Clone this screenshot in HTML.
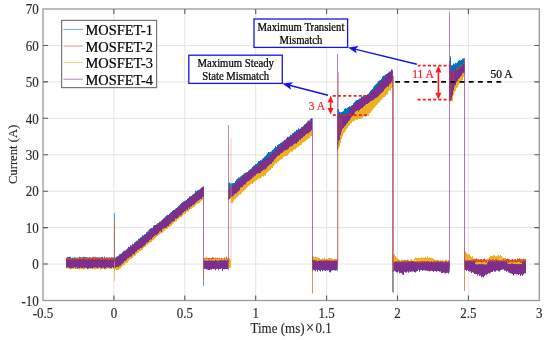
<!DOCTYPE html>
<html><head><meta charset="utf-8"><style>html,body{margin:0;padding:0;background:#fff;overflow:hidden}svg{display:block;filter:blur(0.3px)}</style></head>
<body><svg width="550" height="340" viewBox="0 0 550 340"><path d="M113.90 9.0V300.5M184.80 9.0V300.5M255.70 9.0V300.5M326.60 9.0V300.5M397.50 9.0V300.5M468.40 9.0V300.5M43.0 264.06H539.3M43.0 227.62H539.3M43.0 191.19H539.3M43.0 154.75H539.3M43.0 118.31H539.3M43.0 81.88H539.3M43.0 45.44H539.3" stroke="#e4e4e4" stroke-width="1" fill="none"/><path d="M66.0,258.0 67.0,258.0 67.0,257.1 68.0,257.1 68.0,257.1 69.0,257.1 69.0,256.7 70.0,256.7 70.0,256.9 71.0,256.9 71.0,258.1 72.0,258.1 72.0,257.7 73.0,257.7 73.0,257.7 74.0,257.7 74.0,257.5 75.0,257.5 75.0,257.6 76.0,257.6 76.0,257.7 77.0,257.7 77.0,258.0 78.0,258.0 78.0,258.3 79.0,258.3 79.0,256.8 80.0,256.8 80.0,257.2 81.0,257.2 81.0,257.7 82.0,257.7 82.0,257.6 83.0,257.6 83.0,256.8 84.0,256.8 84.0,256.9 85.0,256.9 85.0,257.0 86.0,257.0 86.0,257.6 87.0,257.6 87.0,257.6 88.0,257.6 88.0,257.4 89.0,257.4 89.0,257.3 90.0,257.3 90.0,257.4 91.0,257.4 91.0,257.7 92.0,257.7 92.0,257.3 93.0,257.3 93.0,257.7 94.0,257.7 94.0,257.2 95.0,257.2 95.0,257.3 96.0,257.3 96.0,257.3 97.0,257.3 97.0,257.6 98.0,257.6 98.0,257.6 99.0,257.6 99.0,257.2 100.0,257.2 100.0,257.6 101.0,257.6 101.0,258.0 102.0,258.0 102.0,257.0 103.0,257.0 103.0,257.9 104.0,257.9 104.0,256.4 105.0,256.4 105.0,257.9 106.0,257.9 106.0,257.2 107.0,257.2 107.0,257.5 108.0,257.5 108.0,258.0 109.0,258.0 109.0,257.5 110.0,257.5 110.0,257.8 111.0,257.8 111.0,257.3 112.0,257.3 112.0,257.6 113.0,257.6 113.0,257.2 114.0,257.2 114.0,265.6 113.0,265.6 113.0,266.0 112.0,266.0 112.0,265.8 111.0,265.8 111.0,266.1 110.0,266.1 110.0,266.7 109.0,266.7 109.0,266.3 108.0,266.3 108.0,266.8 107.0,266.8 107.0,266.3 106.0,266.3 106.0,265.9 105.0,265.9 105.0,265.6 104.0,265.6 104.0,265.8 103.0,265.8 103.0,265.5 102.0,265.5 102.0,266.1 101.0,266.1 101.0,265.7 100.0,265.7 100.0,266.2 99.0,266.2 99.0,265.5 98.0,265.5 98.0,265.4 97.0,265.4 97.0,266.1 96.0,266.1 96.0,266.4 95.0,266.4 95.0,265.4 94.0,265.4 94.0,266.3 93.0,266.3 93.0,265.8 92.0,265.8 92.0,266.0 91.0,266.0 91.0,266.5 90.0,266.5 90.0,266.8 89.0,266.8 89.0,266.2 88.0,266.2 88.0,266.2 87.0,266.2 87.0,266.0 86.0,266.0 86.0,266.2 85.0,266.2 85.0,267.2 84.0,267.2 84.0,265.8 83.0,265.8 83.0,266.2 82.0,266.2 82.0,266.0 81.0,266.0 81.0,265.8 80.0,265.8 80.0,266.1 79.0,266.1 79.0,265.9 78.0,265.9 78.0,266.7 77.0,266.7 77.0,265.8 76.0,265.8 76.0,266.3 75.0,266.3 75.0,265.4 74.0,265.4 74.0,266.3 73.0,266.3 73.0,266.0 72.0,266.0 72.0,265.5 71.0,265.5 71.0,266.7 70.0,266.7 70.0,266.0 69.0,266.0 69.0,265.5 68.0,265.5 68.0,265.7 67.0,265.7 67.0,265.7 66.0,265.7Z" fill="#0072BD"/><path d="M114.0,258.7 115.0,258.7 115.0,257.8 116.0,257.8 116.0,256.8 117.0,256.8 117.0,256.6 118.0,256.6 118.0,255.8 119.0,255.8 119.0,254.2 120.0,254.2 120.0,254.7 121.0,254.7 121.0,253.4 122.0,253.4 122.0,252.4 123.0,252.4 123.0,251.3 124.0,251.3 124.0,250.4 125.0,250.4 125.0,250.5 126.0,250.5 126.0,249.6 127.0,249.6 127.0,248.6 128.0,248.6 128.0,246.8 129.0,246.8 129.0,247.2 130.0,247.2 130.0,245.1 131.0,245.1 131.0,245.5 132.0,245.5 132.0,243.5 133.0,243.5 133.0,244.3 134.0,244.3 134.0,242.4 135.0,242.4 135.0,241.8 136.0,241.8 136.0,240.8 137.0,240.8 137.0,240.6 138.0,240.6 138.0,238.7 139.0,238.7 139.0,238.4 140.0,238.4 140.0,237.6 141.0,237.6 141.0,237.0 142.0,237.0 142.0,235.2 143.0,235.2 143.0,235.5 144.0,235.5 144.0,234.6 145.0,234.6 145.0,234.0 146.0,234.0 146.0,232.2 147.0,232.2 147.0,231.5 148.0,231.5 148.0,230.8 149.0,230.8 149.0,229.3 150.0,229.3 150.0,228.6 151.0,228.6 151.0,228.0 152.0,228.0 152.0,227.9 153.0,227.9 153.0,225.8 154.0,225.8 154.0,224.9 155.0,224.9 155.0,224.9 156.0,224.9 156.0,224.7 157.0,224.7 157.0,223.3 158.0,223.3 158.0,223.0 159.0,223.0 159.0,221.8 160.0,221.8 160.0,221.6 161.0,221.6 161.0,220.6 162.0,220.6 162.0,219.5 163.0,219.5 163.0,218.4 164.0,218.4 164.0,217.5 165.0,217.5 165.0,216.5 166.0,216.5 166.0,215.4 167.0,215.4 167.0,214.9 168.0,214.9 168.0,214.9 169.0,214.9 169.0,213.7 170.0,213.7 170.0,212.4 171.0,212.4 171.0,212.1 172.0,212.1 172.0,210.8 173.0,210.8 173.0,210.1 174.0,210.1 174.0,209.8 175.0,209.8 175.0,208.7 176.0,208.7 176.0,208.0 177.0,208.0 177.0,207.3 178.0,207.3 178.0,205.7 179.0,205.7 179.0,205.5 180.0,205.5 180.0,203.9 181.0,203.9 181.0,203.0 182.0,203.0 182.0,203.1 183.0,203.1 183.0,201.5 184.0,201.5 184.0,200.9 185.0,200.9 185.0,200.5 186.0,200.5 186.0,200.0 187.0,200.0 187.0,198.8 188.0,198.8 188.0,198.2 189.0,198.2 189.0,196.6 190.0,196.6 190.0,196.3 191.0,196.3 191.0,195.9 192.0,195.9 192.0,194.7 193.0,194.7 193.0,194.0 194.0,194.0 194.0,193.4 195.0,193.4 195.0,190.8 196.0,190.8 196.0,191.2 197.0,191.2 197.0,190.6 198.0,190.6 198.0,190.2 199.0,190.2 199.0,189.6 200.0,189.6 200.0,188.8 201.0,188.8 201.0,187.4 202.0,187.4 202.0,187.0 203.0,187.0 203.0,185.9 203.6,185.9 203.6,193.1 203.0,193.1 203.0,194.6 202.0,194.6 202.0,194.6 201.0,194.6 201.0,196.6 200.0,196.6 200.0,197.1 199.0,197.1 199.0,197.4 198.0,197.4 198.0,199.5 197.0,199.5 197.0,200.1 196.0,200.1 196.0,199.5 195.0,199.5 195.0,200.0 194.0,200.0 194.0,201.4 193.0,201.4 193.0,202.0 192.0,202.0 192.0,202.7 191.0,202.7 191.0,203.3 190.0,203.3 190.0,204.2 189.0,204.2 189.0,206.6 188.0,206.6 188.0,205.6 187.0,205.6 187.0,206.5 186.0,206.5 186.0,208.4 185.0,208.4 185.0,208.5 184.0,208.5 184.0,209.8 183.0,209.8 183.0,209.9 182.0,209.9 182.0,211.5 181.0,211.5 181.0,211.7 180.0,211.7 180.0,213.6 179.0,213.6 179.0,213.6 178.0,213.6 178.0,214.1 177.0,214.1 177.0,216.1 176.0,216.1 176.0,216.2 175.0,216.2 175.0,216.4 174.0,216.4 174.0,217.3 173.0,217.3 173.0,218.3 172.0,218.3 172.0,219.6 171.0,219.6 171.0,220.3 170.0,220.3 170.0,221.6 169.0,221.6 169.0,222.0 168.0,222.0 168.0,223.1 167.0,223.1 167.0,223.4 166.0,223.4 166.0,224.1 165.0,224.1 165.0,225.9 164.0,225.9 164.0,226.4 163.0,226.4 163.0,227.2 162.0,227.2 162.0,227.6 161.0,227.6 161.0,228.1 160.0,228.1 160.0,228.4 159.0,228.4 159.0,230.0 158.0,230.0 158.0,230.4 157.0,230.4 157.0,231.3 156.0,231.3 156.0,232.4 155.0,232.4 155.0,233.6 154.0,233.6 154.0,234.5 153.0,234.5 153.0,234.5 152.0,234.5 152.0,236.7 151.0,236.7 151.0,236.8 150.0,236.8 150.0,237.1 149.0,237.1 149.0,239.6 148.0,239.6 148.0,239.7 147.0,239.7 147.0,239.8 146.0,239.8 146.0,240.8 145.0,240.8 145.0,241.9 144.0,241.9 144.0,242.9 143.0,242.9 143.0,244.6 142.0,244.6 142.0,244.7 141.0,244.7 141.0,245.5 140.0,245.5 140.0,245.9 139.0,245.9 139.0,246.8 138.0,246.8 138.0,248.4 137.0,248.4 137.0,248.5 136.0,248.5 136.0,249.5 135.0,249.5 135.0,250.1 134.0,250.1 134.0,251.0 133.0,251.0 133.0,251.7 132.0,251.7 132.0,253.0 131.0,253.0 131.0,252.9 130.0,252.9 130.0,253.5 129.0,253.5 129.0,255.3 128.0,255.3 128.0,256.2 127.0,256.2 127.0,257.1 126.0,257.1 126.0,257.7 125.0,257.7 125.0,258.4 124.0,258.4 124.0,259.5 123.0,259.5 123.0,260.5 122.0,260.5 122.0,262.2 121.0,262.2 121.0,262.5 120.0,262.5 120.0,263.5 119.0,263.5 119.0,264.1 118.0,264.1 118.0,264.4 117.0,264.4 117.0,264.4 116.0,264.4 116.0,264.9 115.0,264.9 115.0,265.1 114.0,265.1Z" fill="#0072BD"/><path d="M203.6,261.7 204.0,261.7 204.0,262.3 205.0,262.3 205.0,261.8 206.0,261.8 206.0,261.3 207.0,261.3 207.0,262.5 208.0,262.5 208.0,261.5 209.0,261.5 209.0,261.7 210.0,261.7 210.0,262.5 211.0,262.5 211.0,262.3 212.0,262.3 212.0,262.1 213.0,262.1 213.0,262.4 214.0,262.4 214.0,262.2 215.0,262.2 215.0,262.1 216.0,262.1 216.0,262.2 217.0,262.2 217.0,261.9 218.0,261.9 218.0,262.1 219.0,262.1 219.0,261.3 220.0,261.3 220.0,261.6 221.0,261.6 221.0,262.2 222.0,262.2 222.0,261.7 223.0,261.7 223.0,262.3 224.0,262.3 224.0,261.4 225.0,261.4 225.0,261.6 226.0,261.6 226.0,262.4 227.0,262.4 227.0,262.1 228.0,262.1 228.0,262.1 228.5,262.1 228.5,268.2 228.0,268.2 228.0,268.9 227.0,268.9 227.0,268.1 226.0,268.1 226.0,268.1 225.0,268.1 225.0,268.0 224.0,268.0 224.0,268.3 223.0,268.3 223.0,267.7 222.0,267.7 222.0,267.8 221.0,267.8 221.0,268.2 220.0,268.2 220.0,268.4 219.0,268.4 219.0,268.0 218.0,268.0 218.0,267.7 217.0,267.7 217.0,268.2 216.0,268.2 216.0,268.5 215.0,268.5 215.0,268.3 214.0,268.3 214.0,268.8 213.0,268.8 213.0,267.9 212.0,267.9 212.0,268.6 211.0,268.6 211.0,268.0 210.0,268.0 210.0,269.0 209.0,269.0 209.0,269.3 208.0,269.3 208.0,268.2 207.0,268.2 207.0,268.9 206.0,268.9 206.0,268.1 205.0,268.1 205.0,268.4 204.0,268.4 204.0,268.2 203.6,268.2Z" fill="#0072BD"/><path d="M228.5,182.8 229.0,182.8 229.0,182.5 230.0,182.5 230.0,183.5 231.0,183.5 231.0,183.3 232.0,183.3 232.0,183.3 233.0,183.3 233.0,183.1 234.0,183.1 234.0,183.0 235.0,183.0 235.0,181.1 236.0,181.1 236.0,179.5 237.0,179.5 237.0,178.5 238.0,178.5 238.0,177.5 239.0,177.5 239.0,177.5 240.0,177.5 240.0,176.6 241.0,176.6 241.0,175.8 242.0,175.8 242.0,175.1 243.0,175.1 243.0,174.2 244.0,174.2 244.0,173.0 245.0,173.0 245.0,172.8 246.0,172.8 246.0,172.4 247.0,172.4 247.0,172.1 248.0,172.1 248.0,170.8 249.0,170.8 249.0,169.9 250.0,169.9 250.0,169.2 251.0,169.2 251.0,168.4 252.0,168.4 252.0,166.9 253.0,166.9 253.0,165.7 254.0,165.7 254.0,165.6 255.0,165.6 255.0,163.9 256.0,163.9 256.0,164.0 257.0,164.0 257.0,163.0 258.0,163.0 258.0,161.3 259.0,161.3 259.0,161.1 260.0,161.1 260.0,160.3 261.0,160.3 261.0,160.3 262.0,160.3 262.0,158.7 263.0,158.7 263.0,157.9 264.0,157.9 264.0,156.7 265.0,156.7 265.0,156.1 266.0,156.1 266.0,154.8 267.0,154.8 267.0,153.5 268.0,153.5 268.0,152.0 269.0,152.0 269.0,152.3 270.0,152.3 270.0,152.0 271.0,152.0 271.0,151.3 272.0,151.3 272.0,150.1 273.0,150.1 273.0,149.3 274.0,149.3 274.0,147.9 275.0,147.9 275.0,146.1 276.0,146.1 276.0,147.0 277.0,147.0 277.0,145.1 278.0,145.1 278.0,144.6 279.0,144.6 279.0,143.9 280.0,143.9 280.0,143.1 281.0,143.1 281.0,142.6 282.0,142.6 282.0,141.7 283.0,141.7 283.0,141.3 284.0,141.3 284.0,139.9 285.0,139.9 285.0,139.7 286.0,139.7 286.0,138.6 287.0,138.6 287.0,137.8 288.0,137.8 288.0,136.9 289.0,136.9 289.0,136.3 290.0,136.3 290.0,134.4 291.0,134.4 291.0,134.9 292.0,134.9 292.0,133.3 293.0,133.3 293.0,133.1 294.0,133.1 294.0,131.8 295.0,131.8 295.0,131.5 296.0,131.5 296.0,129.7 297.0,129.7 297.0,130.0 298.0,130.0 298.0,128.3 299.0,128.3 299.0,129.0 300.0,129.0 300.0,128.6 301.0,128.6 301.0,126.9 302.0,126.9 302.0,126.8 303.0,126.8 303.0,125.8 304.0,125.8 304.0,124.4 305.0,124.4 305.0,124.1 306.0,124.1 306.0,122.8 307.0,122.8 307.0,121.4 308.0,121.4 308.0,120.5 309.0,120.5 309.0,120.4 310.0,120.4 310.0,119.1 311.0,119.1 311.0,118.1 312.0,118.1 312.0,122.1 311.0,122.1 311.0,122.9 310.0,122.9 310.0,124.8 309.0,124.8 309.0,124.7 308.0,124.7 308.0,126.0 307.0,126.0 307.0,127.0 306.0,127.0 306.0,127.7 305.0,127.7 305.0,128.2 304.0,128.2 304.0,129.8 303.0,129.8 303.0,130.7 302.0,130.7 302.0,131.5 301.0,131.5 301.0,131.9 300.0,131.9 300.0,132.8 299.0,132.8 299.0,133.6 298.0,133.6 298.0,135.4 297.0,135.4 297.0,134.9 296.0,134.9 296.0,135.9 295.0,135.9 295.0,137.4 294.0,137.4 294.0,137.0 293.0,137.0 293.0,138.4 292.0,138.4 292.0,139.1 291.0,139.1 291.0,140.7 290.0,140.7 290.0,140.7 289.0,140.7 289.0,141.2 288.0,141.2 288.0,141.8 287.0,141.8 287.0,142.4 286.0,142.4 286.0,143.4 285.0,143.4 285.0,143.6 284.0,143.6 284.0,145.4 283.0,145.4 283.0,146.2 282.0,146.2 282.0,146.9 281.0,146.9 281.0,148.5 280.0,148.5 280.0,148.9 279.0,148.9 279.0,149.8 278.0,149.8 278.0,151.3 277.0,151.3 277.0,152.6 276.0,152.6 276.0,154.1 275.0,154.1 275.0,155.1 274.0,155.1 274.0,155.3 273.0,155.3 273.0,156.4 272.0,156.4 272.0,158.1 271.0,158.1 271.0,158.5 270.0,158.5 270.0,158.9 269.0,158.9 269.0,160.4 268.0,160.4 268.0,160.5 267.0,160.5 267.0,161.6 266.0,161.6 266.0,161.8 265.0,161.8 265.0,163.2 264.0,163.2 264.0,163.3 263.0,163.3 263.0,164.1 262.0,164.1 262.0,165.5 261.0,165.5 261.0,165.4 260.0,165.4 260.0,166.6 259.0,166.6 259.0,167.1 258.0,167.1 258.0,168.8 257.0,168.8 257.0,168.1 256.0,168.1 256.0,169.3 255.0,169.3 255.0,170.0 254.0,170.0 254.0,170.9 253.0,170.9 253.0,172.2 252.0,172.2 252.0,171.8 251.0,171.8 251.0,172.6 250.0,172.6 250.0,173.9 249.0,173.9 249.0,175.4 248.0,175.4 248.0,177.3 247.0,177.3 247.0,176.3 246.0,176.3 246.0,178.2 245.0,178.2 245.0,178.8 244.0,178.8 244.0,178.2 243.0,178.2 243.0,180.5 242.0,180.5 242.0,180.0 241.0,180.0 241.0,181.9 240.0,181.9 240.0,182.3 239.0,182.3 239.0,184.0 238.0,184.0 238.0,183.8 237.0,183.8 237.0,185.0 236.0,185.0 236.0,186.5 235.0,186.5 235.0,188.0 234.0,188.0 234.0,188.1 233.0,188.1 233.0,189.0 232.0,189.0 232.0,189.9 231.0,189.9 231.0,191.6 230.0,191.6 230.0,191.3 229.0,191.3 229.0,191.9 228.5,191.9Z" fill="#0072BD"/><path d="M312.0,262.4 313.0,262.4 313.0,262.2 314.0,262.2 314.0,262.3 315.0,262.3 315.0,262.1 316.0,262.1 316.0,260.9 317.0,260.9 317.0,261.8 318.0,261.8 318.0,262.7 319.0,262.7 319.0,262.3 320.0,262.3 320.0,262.3 321.0,262.3 321.0,261.8 322.0,261.8 322.0,261.6 323.0,261.6 323.0,261.9 324.0,261.9 324.0,261.9 325.0,261.9 325.0,260.8 326.0,260.8 326.0,262.6 327.0,262.6 327.0,261.7 328.0,261.7 328.0,262.6 329.0,262.6 329.0,261.2 330.0,261.2 330.0,262.2 331.0,262.2 331.0,261.9 332.0,261.9 332.0,262.2 333.0,262.2 333.0,261.6 334.0,261.6 334.0,262.4 335.0,262.4 335.0,261.7 336.0,261.7 336.0,262.2 337.0,262.2 337.0,261.5 337.5,261.5 337.5,270.5 337.0,270.5 337.0,270.2 336.0,270.2 336.0,270.6 335.0,270.6 335.0,270.5 334.0,270.5 334.0,269.7 333.0,269.7 333.0,269.8 332.0,269.8 332.0,270.5 331.0,270.5 331.0,269.6 330.0,269.6 330.0,271.4 329.0,271.4 329.0,269.8 328.0,269.8 328.0,270.5 327.0,270.5 327.0,270.3 326.0,270.3 326.0,271.0 325.0,271.0 325.0,270.6 324.0,270.6 324.0,270.2 323.0,270.2 323.0,271.3 322.0,271.3 322.0,270.1 321.0,270.1 321.0,270.2 320.0,270.2 320.0,270.4 319.0,270.4 319.0,270.0 318.0,270.0 318.0,271.2 317.0,271.2 317.0,269.6 316.0,269.6 316.0,271.3 315.0,271.3 315.0,270.2 314.0,270.2 314.0,269.7 313.0,269.7 313.0,270.1 312.0,270.1Z" fill="#0072BD"/><path d="M337.5,109.2 338.0,109.2 338.0,109.2 339.0,109.2 339.0,111.7 340.0,111.7 340.0,112.4 341.0,112.4 341.0,112.0 342.0,112.0 342.0,111.7 343.0,111.7 343.0,110.9 344.0,110.9 344.0,109.1 345.0,109.1 345.0,108.3 346.0,108.3 346.0,108.5 347.0,108.5 347.0,107.7 348.0,107.7 348.0,106.9 349.0,106.9 349.0,106.2 350.0,106.2 350.0,106.5 351.0,106.5 351.0,105.6 352.0,105.6 352.0,105.0 353.0,105.0 353.0,103.3 354.0,103.3 354.0,102.3 355.0,102.3 355.0,100.8 356.0,100.8 356.0,100.2 357.0,100.2 357.0,99.9 358.0,99.9 358.0,99.3 359.0,99.3 359.0,98.5 360.0,98.5 360.0,98.2 361.0,98.2 361.0,96.8 362.0,96.8 362.0,96.4 363.0,96.4 363.0,95.2 364.0,95.2 364.0,96.6 365.0,96.6 365.0,95.3 366.0,95.3 366.0,95.6 367.0,95.6 367.0,94.3 368.0,94.3 368.0,93.7 369.0,93.7 369.0,92.2 370.0,92.2 370.0,90.8 371.0,90.8 371.0,89.7 372.0,89.7 372.0,88.9 373.0,88.9 373.0,87.3 374.0,87.3 374.0,85.4 375.0,85.4 375.0,84.7 376.0,84.7 376.0,83.8 377.0,83.8 377.0,82.5 378.0,82.5 378.0,81.0 379.0,81.0 379.0,80.5 380.0,80.5 380.0,80.0 381.0,80.0 381.0,79.0 382.0,79.0 382.0,76.5 383.0,76.5 383.0,75.7 384.0,75.7 384.0,75.4 385.0,75.4 385.0,74.4 386.0,74.4 386.0,74.1 387.0,74.1 387.0,73.2 388.0,73.2 388.0,72.4 389.0,72.4 389.0,72.2 390.0,72.2 390.0,71.7 391.0,71.7 391.0,69.4 392.0,69.4 392.0,69.5 392.6,69.5 392.6,73.1 392.0,73.1 392.0,74.2 391.0,74.2 391.0,74.5 390.0,74.5 390.0,75.2 389.0,75.2 389.0,77.0 388.0,77.0 388.0,77.4 387.0,77.4 387.0,79.2 386.0,79.2 386.0,80.3 385.0,80.3 385.0,81.0 384.0,81.0 384.0,81.6 383.0,81.6 383.0,83.4 382.0,83.4 382.0,84.2 381.0,84.2 381.0,84.8 380.0,84.8 380.0,86.6 379.0,86.6 379.0,88.3 378.0,88.3 378.0,89.5 377.0,89.5 377.0,91.2 376.0,91.2 376.0,91.6 375.0,91.6 375.0,91.9 374.0,91.9 374.0,93.0 373.0,93.0 373.0,93.8 372.0,93.8 372.0,95.4 371.0,95.4 371.0,96.0 370.0,96.0 370.0,96.9 369.0,96.9 369.0,98.1 368.0,98.1 368.0,98.2 367.0,98.2 367.0,98.2 366.0,98.2 366.0,99.5 365.0,99.5 365.0,99.4 364.0,99.4 364.0,100.3 363.0,100.3 363.0,101.7 362.0,101.7 362.0,101.3 361.0,101.3 361.0,102.5 360.0,102.5 360.0,102.3 359.0,102.3 359.0,103.4 358.0,103.4 358.0,104.9 357.0,104.9 357.0,104.8 356.0,104.8 356.0,105.8 355.0,105.8 355.0,107.3 354.0,107.3 354.0,107.9 353.0,107.9 353.0,110.2 352.0,110.2 352.0,110.0 351.0,110.0 351.0,112.6 350.0,112.6 350.0,113.7 349.0,113.7 349.0,116.1 348.0,116.1 348.0,116.9 347.0,116.9 347.0,118.0 346.0,118.0 346.0,118.1 345.0,118.1 345.0,118.7 344.0,118.7 344.0,118.5 343.0,118.5 343.0,119.3 342.0,119.3 342.0,118.2 341.0,118.2 341.0,118.8 340.0,118.8 340.0,120.0 339.0,120.0 339.0,119.2 338.0,119.2 338.0,118.5 337.5,118.5Z" fill="#0072BD"/><path d="M392.6,261.9 393.0,261.9 393.0,262.2 394.0,262.2 394.0,262.2 395.0,262.2 395.0,261.8 396.0,261.8 396.0,261.9 397.0,261.9 397.0,262.1 398.0,262.1 398.0,262.5 399.0,262.5 399.0,261.9 400.0,261.9 400.0,262.0 401.0,262.0 401.0,262.0 402.0,262.0 402.0,262.0 403.0,262.0 403.0,262.2 404.0,262.2 404.0,260.3 405.0,260.3 405.0,262.1 406.0,262.1 406.0,261.7 407.0,261.7 407.0,261.7 408.0,261.7 408.0,260.8 409.0,260.8 409.0,261.3 410.0,261.3 410.0,262.2 411.0,262.2 411.0,261.7 412.0,261.7 412.0,262.0 413.0,262.0 413.0,261.5 414.0,261.5 414.0,261.9 415.0,261.9 415.0,262.1 416.0,262.1 416.0,262.1 417.0,262.1 417.0,261.9 418.0,261.9 418.0,262.3 419.0,262.3 419.0,262.0 420.0,262.0 420.0,261.8 421.0,261.8 421.0,262.2 422.0,262.2 422.0,261.6 423.0,261.6 423.0,260.9 424.0,260.9 424.0,261.2 425.0,261.2 425.0,262.1 426.0,262.1 426.0,261.9 427.0,261.9 427.0,262.2 428.0,262.2 428.0,261.2 429.0,261.2 429.0,261.6 430.0,261.6 430.0,262.0 431.0,262.0 431.0,261.3 432.0,261.3 432.0,261.8 433.0,261.8 433.0,262.2 434.0,262.2 434.0,261.7 435.0,261.7 435.0,261.1 436.0,261.1 436.0,261.7 437.0,261.7 437.0,262.3 438.0,262.3 438.0,261.6 439.0,261.6 439.0,261.5 440.0,261.5 440.0,262.4 441.0,262.4 441.0,261.6 442.0,261.6 442.0,261.1 443.0,261.1 443.0,261.9 444.0,261.9 444.0,262.1 445.0,262.1 445.0,260.6 446.0,260.6 446.0,262.0 447.0,262.0 447.0,261.4 448.0,261.4 448.0,261.5 449.0,261.5 449.0,262.2 449.6,262.2 449.6,269.6 449.0,269.6 449.0,270.0 448.0,270.0 448.0,270.6 447.0,270.6 447.0,270.1 446.0,270.1 446.0,269.8 445.0,269.8 445.0,270.0 444.0,270.0 444.0,269.8 443.0,269.8 443.0,269.7 442.0,269.7 442.0,270.7 441.0,270.7 441.0,269.7 440.0,269.7 440.0,271.3 439.0,271.3 439.0,270.0 438.0,270.0 438.0,269.7 437.0,269.7 437.0,270.7 436.0,270.7 436.0,269.6 435.0,269.6 435.0,269.8 434.0,269.8 434.0,269.3 433.0,269.3 433.0,269.5 432.0,269.5 432.0,270.0 431.0,270.0 431.0,271.0 430.0,271.0 430.0,270.6 429.0,270.6 429.0,270.5 428.0,270.5 428.0,270.5 427.0,270.5 427.0,269.8 426.0,269.8 426.0,269.9 425.0,269.9 425.0,270.4 424.0,270.4 424.0,270.3 423.0,270.3 423.0,269.9 422.0,269.9 422.0,270.1 421.0,270.1 421.0,269.9 420.0,269.9 420.0,269.8 419.0,269.8 419.0,269.6 418.0,269.6 418.0,270.6 417.0,270.6 417.0,271.4 416.0,271.4 416.0,270.5 415.0,270.5 415.0,270.0 414.0,270.0 414.0,270.0 413.0,270.0 413.0,270.1 412.0,270.1 412.0,269.7 411.0,269.7 411.0,269.7 410.0,269.7 410.0,270.6 409.0,270.6 409.0,270.6 408.0,270.6 408.0,269.6 407.0,269.6 407.0,270.2 406.0,270.2 406.0,270.6 405.0,270.6 405.0,269.7 404.0,269.7 404.0,270.4 403.0,270.4 403.0,270.3 402.0,270.3 402.0,269.9 401.0,269.9 401.0,270.1 400.0,270.1 400.0,270.2 399.0,270.2 399.0,270.7 398.0,270.7 398.0,270.0 397.0,270.0 397.0,270.1 396.0,270.1 396.0,270.4 395.0,270.4 395.0,270.3 394.0,270.3 394.0,269.8 393.0,269.8 393.0,270.3 392.6,270.3Z" fill="#0072BD"/><path d="M449.3,61.1 450.0,61.1 450.0,58.1 451.0,58.1 451.0,65.8 452.0,65.8 452.0,65.1 453.0,65.1 453.0,63.4 454.0,63.4 454.0,64.2 455.0,64.2 455.0,63.1 456.0,63.1 456.0,63.2 457.0,63.2 457.0,62.3 458.0,62.3 458.0,60.8 459.0,60.8 459.0,60.1 460.0,60.1 460.0,60.5 461.0,60.5 461.0,59.9 462.0,59.9 462.0,58.4 463.0,58.4 463.0,58.5 464.0,58.5 464.0,58.5 464.4,58.5 464.4,62.6 464.0,62.6 464.0,63.5 463.0,63.5 463.0,66.0 462.0,66.0 462.0,65.8 461.0,65.8 461.0,66.3 460.0,66.3 460.0,67.7 459.0,67.7 459.0,67.9 458.0,67.9 458.0,68.7 457.0,68.7 457.0,70.4 456.0,70.4 456.0,70.2 455.0,70.2 455.0,70.9 454.0,70.9 454.0,71.9 453.0,71.9 453.0,71.0 452.0,71.0 452.0,71.5 451.0,71.5 451.0,72.3 450.0,72.3 450.0,72.7 449.3,72.7Z" fill="#0072BD"/><path d="M464.4,261.3 465.0,261.3 465.0,260.7 466.0,260.7 466.0,261.5 467.0,261.5 467.0,260.6 468.0,260.6 468.0,260.8 469.0,260.8 469.0,261.1 470.0,261.1 470.0,260.3 471.0,260.3 471.0,260.9 472.0,260.9 472.0,260.8 473.0,260.8 473.0,260.7 474.0,260.7 474.0,261.0 475.0,261.0 475.0,260.2 476.0,260.2 476.0,260.1 477.0,260.1 477.0,260.4 478.0,260.4 478.0,260.9 479.0,260.9 479.0,260.6 480.0,260.6 480.0,261.0 481.0,261.0 481.0,260.8 482.0,260.8 482.0,261.3 483.0,261.3 483.0,261.4 484.0,261.4 484.0,260.6 485.0,260.6 485.0,261.6 486.0,261.6 486.0,260.5 487.0,260.5 487.0,260.4 488.0,260.4 488.0,260.3 489.0,260.3 489.0,260.9 490.0,260.9 490.0,260.5 491.0,260.5 491.0,260.5 492.0,260.5 492.0,261.4 493.0,261.4 493.0,261.0 494.0,261.0 494.0,261.0 495.0,261.0 495.0,261.6 496.0,261.6 496.0,260.5 497.0,260.5 497.0,261.1 498.0,261.1 498.0,260.1 499.0,260.1 499.0,261.3 500.0,261.3 500.0,260.0 501.0,260.0 501.0,260.4 502.0,260.4 502.0,261.3 503.0,261.3 503.0,261.3 504.0,261.3 504.0,260.4 505.0,260.4 505.0,261.3 506.0,261.3 506.0,261.2 507.0,261.2 507.0,261.2 508.0,261.2 508.0,260.8 509.0,260.8 509.0,260.9 510.0,260.9 510.0,261.5 511.0,261.5 511.0,259.7 512.0,259.7 512.0,260.3 513.0,260.3 513.0,260.3 514.0,260.3 514.0,261.0 515.0,261.0 515.0,261.0 516.0,261.0 516.0,261.0 517.0,261.0 517.0,261.2 518.0,261.2 518.0,260.9 519.0,260.9 519.0,260.6 520.0,260.6 520.0,260.2 521.0,260.2 521.0,260.7 522.0,260.7 522.0,260.3 523.0,260.3 523.0,261.2 524.0,261.2 524.0,261.7 525.0,261.7 525.0,261.0 526.0,261.0 526.0,268.8 525.0,268.8 525.0,268.8 524.0,268.8 524.0,268.6 523.0,268.6 523.0,270.4 522.0,270.4 522.0,268.5 521.0,268.5 521.0,268.9 520.0,268.9 520.0,270.2 519.0,270.2 519.0,269.1 518.0,269.1 518.0,269.1 517.0,269.1 517.0,269.6 516.0,269.6 516.0,268.6 515.0,268.6 515.0,268.7 514.0,268.7 514.0,269.5 513.0,269.5 513.0,269.6 512.0,269.6 512.0,269.2 511.0,269.2 511.0,268.5 510.0,268.5 510.0,268.4 509.0,268.4 509.0,268.7 508.0,268.7 508.0,269.2 507.0,269.2 507.0,268.9 506.0,268.9 506.0,269.9 505.0,269.9 505.0,269.1 504.0,269.1 504.0,268.7 503.0,268.7 503.0,269.0 502.0,269.0 502.0,269.8 501.0,269.8 501.0,269.8 500.0,269.8 500.0,268.6 499.0,268.6 499.0,269.3 498.0,269.3 498.0,268.7 497.0,268.7 497.0,269.9 496.0,269.9 496.0,269.4 495.0,269.4 495.0,269.0 494.0,269.0 494.0,268.9 493.0,268.9 493.0,268.9 492.0,268.9 492.0,268.6 491.0,268.6 491.0,268.8 490.0,268.8 490.0,269.6 489.0,269.6 489.0,268.5 488.0,268.5 488.0,269.3 487.0,269.3 487.0,269.1 486.0,269.1 486.0,269.7 485.0,269.7 485.0,269.0 484.0,269.0 484.0,269.5 483.0,269.5 483.0,269.0 482.0,269.0 482.0,269.8 481.0,269.8 481.0,269.7 480.0,269.7 480.0,270.1 479.0,270.1 479.0,268.6 478.0,268.6 478.0,269.3 477.0,269.3 477.0,269.3 476.0,269.3 476.0,268.6 475.0,268.6 475.0,269.9 474.0,269.9 474.0,269.1 473.0,269.1 473.0,269.5 472.0,269.5 472.0,269.3 471.0,269.3 471.0,269.1 470.0,269.1 470.0,268.6 469.0,268.6 469.0,269.8 468.0,269.8 468.0,268.4 467.0,268.4 467.0,270.1 466.0,270.1 466.0,269.6 465.0,269.6 465.0,269.6 464.4,269.6Z" fill="#0072BD"/><path d="M66.0,257.8 67.0,257.8 67.0,258.1 68.0,258.1 68.0,258.1 69.0,258.1 69.0,258.3 70.0,258.3 70.0,258.4 71.0,258.4 71.0,257.9 72.0,257.9 72.0,258.5 73.0,258.5 73.0,258.4 74.0,258.4 74.0,258.6 75.0,258.6 75.0,257.9 76.0,257.9 76.0,258.1 77.0,258.1 77.0,257.6 78.0,257.6 78.0,257.8 79.0,257.8 79.0,257.9 80.0,257.9 80.0,257.4 81.0,257.4 81.0,257.6 82.0,257.6 82.0,257.8 83.0,257.8 83.0,258.2 84.0,258.2 84.0,258.0 85.0,258.0 85.0,257.8 86.0,257.8 86.0,257.4 87.0,257.4 87.0,257.5 88.0,257.5 88.0,258.2 89.0,258.2 89.0,258.0 90.0,258.0 90.0,257.6 91.0,257.6 91.0,257.9 92.0,257.9 92.0,258.2 93.0,258.2 93.0,256.8 94.0,256.8 94.0,257.6 95.0,257.6 95.0,256.7 96.0,256.7 96.0,258.0 97.0,258.0 97.0,257.4 98.0,257.4 98.0,257.5 99.0,257.5 99.0,258.2 100.0,258.2 100.0,258.2 101.0,258.2 101.0,257.0 102.0,257.0 102.0,258.0 103.0,258.0 103.0,257.9 104.0,257.9 104.0,257.5 105.0,257.5 105.0,257.8 106.0,257.8 106.0,258.1 107.0,258.1 107.0,257.9 108.0,257.9 108.0,257.4 109.0,257.4 109.0,257.7 110.0,257.7 110.0,258.1 111.0,258.1 111.0,257.5 112.0,257.5 112.0,258.1 113.0,258.1 113.0,257.9 114.0,257.9 114.0,267.7 113.0,267.7 113.0,265.9 112.0,265.9 112.0,266.1 111.0,266.1 111.0,266.0 110.0,266.0 110.0,265.7 109.0,265.7 109.0,266.1 108.0,266.1 108.0,266.1 107.0,266.1 107.0,266.1 106.0,266.1 106.0,265.4 105.0,265.4 105.0,265.8 104.0,265.8 104.0,266.6 103.0,266.6 103.0,265.5 102.0,265.5 102.0,265.8 101.0,265.8 101.0,265.8 100.0,265.8 100.0,266.6 99.0,266.6 99.0,265.9 98.0,265.9 98.0,265.7 97.0,265.7 97.0,265.8 96.0,265.8 96.0,265.9 95.0,265.9 95.0,266.8 94.0,266.8 94.0,266.6 93.0,266.6 93.0,266.1 92.0,266.1 92.0,266.5 91.0,266.5 91.0,267.0 90.0,267.0 90.0,266.1 89.0,266.1 89.0,266.0 88.0,266.0 88.0,265.4 87.0,265.4 87.0,266.1 86.0,266.1 86.0,265.7 85.0,265.7 85.0,266.0 84.0,266.0 84.0,266.6 83.0,266.6 83.0,265.4 82.0,265.4 82.0,265.3 81.0,265.3 81.0,266.1 80.0,266.1 80.0,266.7 79.0,266.7 79.0,266.5 78.0,266.5 78.0,265.6 77.0,265.6 77.0,265.9 76.0,265.9 76.0,266.1 75.0,266.1 75.0,265.5 74.0,265.5 74.0,266.4 73.0,266.4 73.0,266.0 72.0,266.0 72.0,266.1 71.0,266.1 71.0,266.1 70.0,266.1 70.0,265.7 69.0,265.7 69.0,266.5 68.0,266.5 68.0,265.6 67.0,265.6 67.0,266.3 66.0,266.3Z" fill="#D95319"/><path d="M114.0,260.3 115.0,260.3 115.0,258.9 116.0,258.9 116.0,258.8 117.0,258.8 117.0,257.8 118.0,257.8 118.0,256.7 119.0,256.7 119.0,257.0 120.0,257.0 120.0,256.2 121.0,256.2 121.0,255.4 122.0,255.4 122.0,252.8 123.0,252.8 123.0,253.5 124.0,253.5 124.0,252.3 125.0,252.3 125.0,251.3 126.0,251.3 126.0,250.9 127.0,250.9 127.0,250.0 128.0,250.0 128.0,249.6 129.0,249.6 129.0,248.3 130.0,248.3 130.0,246.3 131.0,246.3 131.0,246.6 132.0,246.6 132.0,243.9 133.0,243.9 133.0,245.1 134.0,245.1 134.0,243.8 135.0,243.8 135.0,243.3 136.0,243.3 136.0,242.0 137.0,242.0 137.0,241.6 138.0,241.6 138.0,240.0 139.0,240.0 139.0,239.3 140.0,239.3 140.0,239.1 141.0,239.1 141.0,238.2 142.0,238.2 142.0,237.1 143.0,237.1 143.0,236.5 144.0,236.5 144.0,236.2 145.0,236.2 145.0,234.8 146.0,234.8 146.0,234.2 147.0,234.2 147.0,232.7 148.0,232.7 148.0,230.6 149.0,230.6 149.0,231.9 150.0,231.9 150.0,230.8 151.0,230.8 151.0,229.1 152.0,229.1 152.0,229.5 153.0,229.5 153.0,228.1 154.0,228.1 154.0,227.1 155.0,227.1 155.0,225.6 156.0,225.6 156.0,225.1 157.0,225.1 157.0,223.9 158.0,223.9 158.0,224.3 159.0,224.3 159.0,221.8 160.0,221.8 160.0,222.7 161.0,222.7 161.0,220.6 162.0,220.6 162.0,221.2 163.0,221.2 163.0,220.0 164.0,220.0 164.0,219.0 165.0,219.0 165.0,218.2 166.0,218.2 166.0,218.1 167.0,218.1 167.0,216.4 168.0,216.4 168.0,216.3 169.0,216.3 169.0,215.5 170.0,215.5 170.0,213.4 171.0,213.4 171.0,213.5 172.0,213.5 172.0,213.3 173.0,213.3 173.0,212.1 174.0,212.1 174.0,211.3 175.0,211.3 175.0,210.4 176.0,210.4 176.0,209.2 177.0,209.2 177.0,208.3 178.0,208.3 178.0,207.4 179.0,207.4 179.0,207.1 180.0,207.1 180.0,205.5 181.0,205.5 181.0,204.8 182.0,204.8 182.0,204.1 183.0,204.1 183.0,203.5 184.0,203.5 184.0,203.1 185.0,203.1 185.0,201.7 186.0,201.7 186.0,201.0 187.0,201.0 187.0,200.2 188.0,200.2 188.0,199.2 189.0,199.2 189.0,198.6 190.0,198.6 190.0,197.0 191.0,197.0 191.0,196.6 192.0,196.6 192.0,195.6 193.0,195.6 193.0,194.6 194.0,194.6 194.0,195.0 195.0,195.0 195.0,194.0 196.0,194.0 196.0,193.0 197.0,193.0 197.0,192.6 198.0,192.6 198.0,190.8 199.0,190.8 199.0,191.0 200.0,191.0 200.0,189.9 201.0,189.9 201.0,188.7 202.0,188.7 202.0,188.2 203.0,188.2 203.0,188.3 203.6,188.3 203.6,196.7 203.0,196.7 203.0,197.0 202.0,197.0 202.0,197.7 201.0,197.7 201.0,199.7 200.0,199.7 200.0,199.1 199.0,199.1 199.0,200.4 198.0,200.4 198.0,202.1 197.0,202.1 197.0,201.9 196.0,201.9 196.0,203.4 195.0,203.4 195.0,203.3 194.0,203.3 194.0,204.9 193.0,204.9 193.0,205.2 192.0,205.2 192.0,206.2 191.0,206.2 191.0,206.3 190.0,206.3 190.0,207.6 189.0,207.6 189.0,207.7 188.0,207.7 188.0,208.9 187.0,208.9 187.0,210.2 186.0,210.2 186.0,210.8 185.0,210.8 185.0,211.5 184.0,211.5 184.0,212.6 183.0,212.6 183.0,213.3 182.0,213.3 182.0,214.5 181.0,214.5 181.0,215.2 180.0,215.2 180.0,215.4 179.0,215.4 179.0,216.7 178.0,216.7 178.0,218.3 177.0,218.3 177.0,217.8 176.0,217.8 176.0,219.9 175.0,219.9 175.0,219.8 174.0,219.8 174.0,220.6 173.0,220.6 173.0,221.8 172.0,221.8 172.0,221.8 171.0,221.8 171.0,224.4 170.0,224.4 170.0,224.2 169.0,224.2 169.0,225.1 168.0,225.1 168.0,226.1 167.0,226.1 167.0,226.2 166.0,226.2 166.0,227.2 165.0,227.2 165.0,228.1 164.0,228.1 164.0,228.6 163.0,228.6 163.0,229.6 162.0,229.6 162.0,230.1 161.0,230.1 161.0,231.6 160.0,231.6 160.0,231.7 159.0,231.7 159.0,233.4 158.0,233.4 158.0,234.2 157.0,234.2 157.0,234.2 156.0,234.2 156.0,235.7 155.0,235.7 155.0,236.0 154.0,236.0 154.0,237.3 153.0,237.3 153.0,238.0 152.0,238.0 152.0,238.8 151.0,238.8 151.0,239.6 150.0,239.6 150.0,240.1 149.0,240.1 149.0,241.3 148.0,241.3 148.0,241.9 147.0,241.9 147.0,243.2 146.0,243.2 146.0,244.4 145.0,244.4 145.0,244.7 144.0,244.7 144.0,246.2 143.0,246.2 143.0,246.0 142.0,246.0 142.0,247.3 141.0,247.3 141.0,248.7 140.0,248.7 140.0,248.5 139.0,248.5 139.0,249.5 138.0,249.5 138.0,250.5 137.0,250.5 137.0,251.7 136.0,251.7 136.0,252.3 135.0,252.3 135.0,254.0 134.0,254.0 134.0,254.2 133.0,254.2 133.0,254.9 132.0,254.9 132.0,255.6 131.0,255.6 131.0,256.3 130.0,256.3 130.0,257.6 129.0,257.6 129.0,257.6 128.0,257.6 128.0,258.9 127.0,258.9 127.0,260.4 126.0,260.4 126.0,260.5 125.0,260.5 125.0,261.2 124.0,261.2 124.0,263.4 123.0,263.4 123.0,263.0 122.0,263.0 122.0,264.1 121.0,264.1 121.0,265.9 120.0,265.9 120.0,266.9 119.0,266.9 119.0,267.0 118.0,267.0 118.0,267.0 117.0,267.0 117.0,267.2 116.0,267.2 116.0,267.5 115.0,267.5 115.0,267.6 114.0,267.6Z" fill="#D95319"/><path d="M203.6,258.6 204.0,258.6 204.0,257.9 205.0,257.9 205.0,258.0 206.0,258.0 206.0,257.3 207.0,257.3 207.0,258.2 208.0,258.2 208.0,258.1 209.0,258.1 209.0,257.9 210.0,257.9 210.0,258.2 211.0,258.2 211.0,258.1 212.0,258.1 212.0,257.2 213.0,257.2 213.0,257.5 214.0,257.5 214.0,258.3 215.0,258.3 215.0,257.8 216.0,257.8 216.0,258.2 217.0,258.2 217.0,257.7 218.0,257.7 218.0,258.5 219.0,258.5 219.0,258.2 220.0,258.2 220.0,258.6 221.0,258.6 221.0,258.0 222.0,258.0 222.0,258.7 223.0,258.7 223.0,258.4 224.0,258.4 224.0,257.6 225.0,257.6 225.0,258.5 226.0,258.5 226.0,256.7 227.0,256.7 227.0,258.4 228.0,258.4 228.0,258.1 228.5,258.1 228.5,267.7 228.0,267.7 228.0,266.4 227.0,266.4 227.0,266.9 226.0,266.9 226.0,266.5 225.0,266.5 225.0,266.5 224.0,266.5 224.0,267.8 223.0,267.8 223.0,266.8 222.0,266.8 222.0,267.4 221.0,267.4 221.0,266.8 220.0,266.8 220.0,267.8 219.0,267.8 219.0,267.7 218.0,267.7 218.0,266.6 217.0,266.6 217.0,266.8 216.0,266.8 216.0,267.3 215.0,267.3 215.0,266.4 214.0,266.4 214.0,266.7 213.0,266.7 213.0,266.7 212.0,266.7 212.0,266.6 211.0,266.6 211.0,266.6 210.0,266.6 210.0,266.9 209.0,266.9 209.0,266.8 208.0,266.8 208.0,267.2 207.0,267.2 207.0,267.0 206.0,267.0 206.0,267.4 205.0,267.4 205.0,267.0 204.0,267.0 204.0,267.0 203.6,267.0Z" fill="#D95319"/><path d="M228.5,189.6 229.0,189.6 229.0,189.0 230.0,189.0 230.0,188.1 231.0,188.1 231.0,187.1 232.0,187.1 232.0,187.1 233.0,187.1 233.0,185.5 234.0,185.5 234.0,185.6 235.0,185.6 235.0,184.5 236.0,184.5 236.0,183.0 237.0,183.0 237.0,182.0 238.0,182.0 238.0,180.3 239.0,180.3 239.0,179.6 240.0,179.6 240.0,179.3 241.0,179.3 241.0,177.2 242.0,177.2 242.0,176.9 243.0,176.9 243.0,176.3 244.0,176.3 244.0,175.5 245.0,175.5 245.0,173.7 246.0,173.7 246.0,174.5 247.0,174.5 247.0,172.2 248.0,172.2 248.0,171.9 249.0,171.9 249.0,171.6 250.0,171.6 250.0,170.0 251.0,170.0 251.0,170.4 252.0,170.4 252.0,169.2 253.0,169.2 253.0,168.2 254.0,168.2 254.0,167.3 255.0,167.3 255.0,167.3 256.0,167.3 256.0,166.4 257.0,166.4 257.0,164.7 258.0,164.7 258.0,165.0 259.0,165.0 259.0,164.0 260.0,164.0 260.0,163.1 261.0,163.1 261.0,162.8 262.0,162.8 262.0,161.9 263.0,161.9 263.0,161.2 264.0,161.2 264.0,160.4 265.0,160.4 265.0,159.6 266.0,159.6 266.0,159.0 267.0,159.0 267.0,157.7 268.0,157.7 268.0,157.2 269.0,157.2 269.0,155.9 270.0,155.9 270.0,155.1 271.0,155.1 271.0,153.1 272.0,153.1 272.0,154.0 273.0,154.0 273.0,153.3 274.0,153.3 274.0,152.2 275.0,152.2 275.0,150.6 276.0,150.6 276.0,150.1 277.0,150.1 277.0,148.2 278.0,148.2 278.0,148.3 279.0,148.3 279.0,146.3 280.0,146.3 280.0,145.2 281.0,145.2 281.0,145.0 282.0,145.0 282.0,142.7 283.0,142.7 283.0,142.3 284.0,142.3 284.0,142.1 285.0,142.1 285.0,141.0 286.0,141.0 286.0,140.3 287.0,140.3 287.0,139.0 288.0,139.0 288.0,138.6 289.0,138.6 289.0,138.1 290.0,138.1 290.0,137.3 291.0,137.3 291.0,135.7 292.0,135.7 292.0,135.9 293.0,135.9 293.0,134.6 294.0,134.6 294.0,134.4 295.0,134.4 295.0,133.3 296.0,133.3 296.0,132.7 297.0,132.7 297.0,131.4 298.0,131.4 298.0,131.2 299.0,131.2 299.0,131.0 300.0,131.0 300.0,129.9 301.0,129.9 301.0,129.0 302.0,129.0 302.0,128.6 303.0,128.6 303.0,126.7 304.0,126.7 304.0,126.3 305.0,126.3 305.0,125.7 306.0,125.7 306.0,124.6 307.0,124.6 307.0,122.1 308.0,122.1 308.0,122.2 309.0,122.2 309.0,121.8 310.0,121.8 310.0,120.7 311.0,120.7 311.0,120.2 312.0,120.2 312.0,129.5 311.0,129.5 311.0,130.3 310.0,130.3 310.0,130.8 309.0,130.8 309.0,131.9 308.0,131.9 308.0,132.6 307.0,132.6 307.0,135.2 306.0,135.2 306.0,135.3 305.0,135.3 305.0,135.3 304.0,135.3 304.0,136.2 303.0,136.2 303.0,136.9 302.0,136.9 302.0,137.5 301.0,137.5 301.0,138.4 300.0,138.4 300.0,139.2 299.0,139.2 299.0,140.5 298.0,140.5 298.0,141.1 297.0,141.1 297.0,142.1 296.0,142.1 296.0,142.8 295.0,142.8 295.0,144.1 294.0,144.1 294.0,145.1 293.0,145.1 293.0,146.1 292.0,146.1 292.0,145.8 291.0,145.8 291.0,146.0 290.0,146.0 290.0,146.5 289.0,146.5 289.0,147.4 288.0,147.4 288.0,149.1 287.0,149.1 287.0,149.2 286.0,149.2 286.0,149.7 285.0,149.7 285.0,150.7 284.0,150.7 284.0,150.8 283.0,150.8 283.0,151.6 282.0,151.6 282.0,152.7 281.0,152.7 281.0,154.9 280.0,154.9 280.0,154.0 279.0,154.0 279.0,155.3 278.0,155.3 278.0,155.8 277.0,155.8 277.0,156.6 276.0,156.6 276.0,158.0 275.0,158.0 275.0,158.6 274.0,158.6 274.0,161.0 273.0,161.0 273.0,161.3 272.0,161.3 272.0,162.2 271.0,162.2 271.0,162.6 270.0,162.6 270.0,163.9 269.0,163.9 269.0,164.9 268.0,164.9 268.0,166.4 267.0,166.4 267.0,167.5 266.0,167.5 266.0,168.1 265.0,168.1 265.0,168.8 264.0,168.8 264.0,169.6 263.0,169.6 263.0,170.7 262.0,170.7 262.0,170.7 261.0,170.7 261.0,172.0 260.0,172.0 260.0,171.9 259.0,171.9 259.0,173.0 258.0,173.0 258.0,173.8 257.0,173.8 257.0,174.1 256.0,174.1 256.0,175.8 255.0,175.8 255.0,176.3 254.0,176.3 254.0,177.1 253.0,177.1 253.0,177.5 252.0,177.5 252.0,178.2 251.0,178.2 251.0,178.1 250.0,178.1 250.0,179.2 249.0,179.2 249.0,180.0 248.0,180.0 248.0,181.5 247.0,181.5 247.0,182.3 246.0,182.3 246.0,183.4 245.0,183.4 245.0,183.6 244.0,183.6 244.0,185.6 243.0,185.6 243.0,185.7 242.0,185.7 242.0,187.2 241.0,187.2 241.0,187.9 240.0,187.9 240.0,188.9 239.0,188.9 239.0,190.1 238.0,190.1 238.0,190.6 237.0,190.6 237.0,192.3 236.0,192.3 236.0,193.4 235.0,193.4 235.0,193.8 234.0,193.8 234.0,196.0 233.0,196.0 233.0,196.4 232.0,196.4 232.0,196.3 231.0,196.3 231.0,197.4 230.0,197.4 230.0,199.0 229.0,199.0 229.0,199.8 228.5,199.8Z" fill="#D95319"/><path d="M312.0,259.8 313.0,259.8 313.0,260.0 314.0,260.0 314.0,259.2 315.0,259.2 315.0,259.6 316.0,259.6 316.0,258.8 317.0,258.8 317.0,258.5 318.0,258.5 318.0,258.9 319.0,258.9 319.0,259.7 320.0,259.7 320.0,260.1 321.0,260.1 321.0,259.1 322.0,259.1 322.0,259.4 323.0,259.4 323.0,259.8 324.0,259.8 324.0,258.3 325.0,258.3 325.0,259.4 326.0,259.4 326.0,259.5 327.0,259.5 327.0,259.9 328.0,259.9 328.0,259.7 329.0,259.7 329.0,258.2 330.0,258.2 330.0,259.7 331.0,259.7 331.0,259.2 332.0,259.2 332.0,259.6 333.0,259.6 333.0,259.9 334.0,259.9 334.0,259.4 335.0,259.4 335.0,259.1 336.0,259.1 336.0,259.3 337.0,259.3 337.0,259.3 337.5,259.3 337.5,266.2 337.0,266.2 337.0,266.2 336.0,266.2 336.0,266.9 335.0,266.9 335.0,266.0 334.0,266.0 334.0,265.6 333.0,265.6 333.0,265.7 332.0,265.7 332.0,267.1 331.0,267.1 331.0,265.5 330.0,265.5 330.0,265.8 329.0,265.8 329.0,266.0 328.0,266.0 328.0,266.2 327.0,266.2 327.0,267.1 326.0,267.1 326.0,266.2 325.0,266.2 325.0,265.8 324.0,265.8 324.0,266.8 323.0,266.8 323.0,266.6 322.0,266.6 322.0,267.7 321.0,267.7 321.0,266.1 320.0,266.1 320.0,266.0 319.0,266.0 319.0,266.5 318.0,266.5 318.0,266.4 317.0,266.4 317.0,266.4 316.0,266.4 316.0,266.5 315.0,266.5 315.0,265.5 314.0,265.5 314.0,265.5 313.0,265.5 313.0,266.2 312.0,266.2Z" fill="#D95319"/><path d="M337.5,117.2 338.0,117.2 338.0,117.2 339.0,117.2 339.0,117.1 340.0,117.1 340.0,116.4 341.0,116.4 341.0,117.3 342.0,117.3 342.0,116.4 343.0,116.4 343.0,116.3 344.0,116.3 344.0,115.3 345.0,115.3 345.0,117.0 346.0,117.0 346.0,114.9 347.0,114.9 347.0,114.9 348.0,114.9 348.0,113.4 349.0,113.4 349.0,112.2 350.0,112.2 350.0,109.6 351.0,109.6 351.0,108.6 352.0,108.6 352.0,107.6 353.0,107.6 353.0,106.0 354.0,106.0 354.0,105.0 355.0,105.0 355.0,103.9 356.0,103.9 356.0,102.3 357.0,102.3 357.0,102.8 358.0,102.8 358.0,101.2 359.0,101.2 359.0,100.5 360.0,100.5 360.0,99.9 361.0,99.9 361.0,98.8 362.0,98.8 362.0,98.5 363.0,98.5 363.0,98.2 364.0,98.2 364.0,96.3 365.0,96.3 365.0,96.5 366.0,96.5 366.0,96.8 367.0,96.8 367.0,96.0 368.0,96.0 368.0,95.5 369.0,95.5 369.0,95.3 370.0,95.3 370.0,94.5 371.0,94.5 371.0,93.6 372.0,93.6 372.0,92.5 373.0,92.5 373.0,91.4 374.0,91.4 374.0,90.3 375.0,90.3 375.0,89.4 376.0,89.4 376.0,87.7 377.0,87.7 377.0,87.5 378.0,87.5 378.0,85.2 379.0,85.2 379.0,84.5 380.0,84.5 380.0,82.3 381.0,82.3 381.0,81.4 382.0,81.4 382.0,81.3 383.0,81.3 383.0,79.8 384.0,79.8 384.0,77.8 385.0,77.8 385.0,77.9 386.0,77.9 386.0,76.8 387.0,76.8 387.0,75.5 388.0,75.5 388.0,74.5 389.0,74.5 389.0,71.4 390.0,71.4 390.0,72.9 391.0,72.9 391.0,71.1 392.0,71.1 392.0,71.3 392.6,71.3 392.6,81.1 392.0,81.1 392.0,81.0 391.0,81.0 391.0,82.6 390.0,82.6 390.0,83.0 389.0,83.0 389.0,84.3 388.0,84.3 388.0,85.6 387.0,85.6 387.0,86.9 386.0,86.9 386.0,88.1 385.0,88.1 385.0,88.6 384.0,88.6 384.0,90.4 383.0,90.4 383.0,90.5 382.0,90.5 382.0,91.5 381.0,91.5 381.0,92.5 380.0,92.5 380.0,93.3 379.0,93.3 379.0,94.9 378.0,94.9 378.0,95.7 377.0,95.7 377.0,96.5 376.0,96.5 376.0,97.1 375.0,97.1 375.0,98.1 374.0,98.1 374.0,98.8 373.0,98.8 373.0,98.9 372.0,98.9 372.0,100.3 371.0,100.3 371.0,100.7 370.0,100.7 370.0,101.3 369.0,101.3 369.0,102.2 368.0,102.2 368.0,102.4 367.0,102.4 367.0,103.3 366.0,103.3 366.0,103.5 365.0,103.5 365.0,105.7 364.0,105.7 364.0,105.6 363.0,105.6 363.0,106.2 362.0,106.2 362.0,107.3 361.0,107.3 361.0,108.5 360.0,108.5 360.0,109.4 359.0,109.4 359.0,108.7 358.0,108.7 358.0,109.7 357.0,109.7 357.0,110.0 356.0,110.0 356.0,111.6 355.0,111.6 355.0,112.1 354.0,112.1 354.0,113.6 353.0,113.6 353.0,115.3 352.0,115.3 352.0,116.8 351.0,116.8 351.0,119.1 350.0,119.1 350.0,119.4 349.0,119.4 349.0,121.1 348.0,121.1 348.0,121.7 347.0,121.7 347.0,123.6 346.0,123.6 346.0,123.4 345.0,123.4 345.0,125.6 344.0,125.6 344.0,126.9 343.0,126.9 343.0,128.1 342.0,128.1 342.0,130.9 341.0,130.9 341.0,134.7 340.0,134.7 340.0,138.7 339.0,138.7 339.0,145.5 338.0,145.5 338.0,147.9 337.5,147.9Z" fill="#D95319"/><path d="M392.6,261.2 393.0,261.2 393.0,260.5 394.0,260.5 394.0,261.4 395.0,261.4 395.0,260.7 396.0,260.7 396.0,260.5 397.0,260.5 397.0,261.1 398.0,261.1 398.0,259.6 399.0,259.6 399.0,260.6 400.0,260.6 400.0,261.1 401.0,261.1 401.0,260.6 402.0,260.6 402.0,260.6 403.0,260.6 403.0,261.3 404.0,261.3 404.0,261.2 405.0,261.2 405.0,260.2 406.0,260.2 406.0,260.8 407.0,260.8 407.0,259.8 408.0,259.8 408.0,260.8 409.0,260.8 409.0,260.9 410.0,260.9 410.0,260.6 411.0,260.6 411.0,260.4 412.0,260.4 412.0,260.7 413.0,260.7 413.0,261.3 414.0,261.3 414.0,259.4 415.0,259.4 415.0,261.2 416.0,261.2 416.0,261.0 417.0,261.0 417.0,260.3 418.0,260.3 418.0,261.3 419.0,261.3 419.0,261.1 420.0,261.1 420.0,260.4 421.0,260.4 421.0,260.7 422.0,260.7 422.0,260.6 423.0,260.6 423.0,261.0 424.0,261.0 424.0,260.3 425.0,260.3 425.0,260.2 426.0,260.2 426.0,260.9 427.0,260.9 427.0,260.3 428.0,260.3 428.0,260.5 429.0,260.5 429.0,261.0 430.0,261.0 430.0,260.5 431.0,260.5 431.0,260.4 432.0,260.4 432.0,261.0 433.0,261.0 433.0,259.5 434.0,259.5 434.0,260.1 435.0,260.1 435.0,260.9 436.0,260.9 436.0,260.6 437.0,260.6 437.0,261.1 438.0,261.1 438.0,260.4 439.0,260.4 439.0,261.5 440.0,261.5 440.0,260.6 441.0,260.6 441.0,261.2 442.0,261.2 442.0,260.5 443.0,260.5 443.0,261.3 444.0,261.3 444.0,260.9 445.0,260.9 445.0,260.6 446.0,260.6 446.0,260.6 447.0,260.6 447.0,261.1 448.0,261.1 448.0,260.3 449.0,260.3 449.0,261.3 449.6,261.3 449.6,266.0 449.0,266.0 449.0,266.7 448.0,266.7 448.0,266.6 447.0,266.6 447.0,265.9 446.0,265.9 446.0,267.4 445.0,267.4 445.0,265.7 444.0,265.7 444.0,266.5 443.0,266.5 443.0,265.6 442.0,265.6 442.0,266.0 441.0,266.0 441.0,266.2 440.0,266.2 440.0,266.2 439.0,266.2 439.0,266.0 438.0,266.0 438.0,265.6 437.0,265.6 437.0,265.6 436.0,265.6 436.0,266.6 435.0,266.6 435.0,265.8 434.0,265.8 434.0,265.8 433.0,265.8 433.0,266.1 432.0,266.1 432.0,265.5 431.0,265.5 431.0,266.1 430.0,266.1 430.0,265.8 429.0,265.8 429.0,265.9 428.0,265.9 428.0,267.2 427.0,267.2 427.0,265.9 426.0,265.9 426.0,266.2 425.0,266.2 425.0,266.0 424.0,266.0 424.0,265.8 423.0,265.8 423.0,266.4 422.0,266.4 422.0,266.4 421.0,266.4 421.0,266.7 420.0,266.7 420.0,265.9 419.0,265.9 419.0,266.9 418.0,266.9 418.0,265.8 417.0,265.8 417.0,265.9 416.0,265.9 416.0,266.2 415.0,266.2 415.0,266.6 414.0,266.6 414.0,265.6 413.0,265.6 413.0,265.9 412.0,265.9 412.0,266.3 411.0,266.3 411.0,267.1 410.0,267.1 410.0,265.7 409.0,265.7 409.0,265.6 408.0,265.6 408.0,265.7 407.0,265.7 407.0,266.0 406.0,266.0 406.0,266.3 405.0,266.3 405.0,266.0 404.0,266.0 404.0,265.7 403.0,265.7 403.0,266.3 402.0,266.3 402.0,266.0 401.0,266.0 401.0,265.6 400.0,265.6 400.0,265.5 399.0,265.5 399.0,266.2 398.0,266.2 398.0,266.7 397.0,266.7 397.0,266.0 396.0,266.0 396.0,265.7 395.0,265.7 395.0,266.0 394.0,266.0 394.0,265.7 393.0,265.7 393.0,265.7 392.6,265.7Z" fill="#D95319"/><path d="M449.3,70.8 450.0,70.8 450.0,70.1 451.0,70.1 451.0,70.8 452.0,70.8 452.0,71.2 453.0,71.2 453.0,70.9 454.0,70.9 454.0,70.4 455.0,70.4 455.0,69.6 456.0,69.6 456.0,68.9 457.0,68.9 457.0,68.8 458.0,68.8 458.0,68.0 459.0,68.0 459.0,67.1 460.0,67.1 460.0,65.7 461.0,65.7 461.0,65.6 462.0,65.6 462.0,64.3 463.0,64.3 463.0,62.8 464.0,62.8 464.0,62.6 464.4,62.6 464.4,72.7 464.0,72.7 464.0,72.9 463.0,72.9 463.0,74.4 462.0,74.4 462.0,75.6 461.0,75.6 461.0,76.0 460.0,76.0 460.0,78.5 459.0,78.5 459.0,79.3 458.0,79.3 458.0,81.8 457.0,81.8 457.0,83.7 456.0,83.7 456.0,84.9 455.0,84.9 455.0,88.2 454.0,88.2 454.0,90.3 453.0,90.3 453.0,93.5 452.0,93.5 452.0,96.0 451.0,96.0 451.0,98.2 450.0,98.2 450.0,99.5 449.3,99.5Z" fill="#D95319"/><path d="M464.4,258.7 465.0,258.7 465.0,259.8 466.0,259.8 466.0,259.6 467.0,259.6 467.0,259.4 468.0,259.4 468.0,259.5 469.0,259.5 469.0,259.5 470.0,259.5 470.0,258.4 471.0,258.4 471.0,259.3 472.0,259.3 472.0,258.8 473.0,258.8 473.0,258.8 474.0,258.8 474.0,259.2 475.0,259.2 475.0,259.0 476.0,259.0 476.0,258.2 477.0,258.2 477.0,259.4 478.0,259.4 478.0,259.0 479.0,259.0 479.0,259.8 480.0,259.8 480.0,259.2 481.0,259.2 481.0,258.9 482.0,258.9 482.0,259.7 483.0,259.7 483.0,258.9 484.0,258.9 484.0,258.6 485.0,258.6 485.0,259.7 486.0,259.7 486.0,259.4 487.0,259.4 487.0,259.6 488.0,259.6 488.0,259.5 489.0,259.5 489.0,257.8 490.0,257.8 490.0,259.2 491.0,259.2 491.0,259.3 492.0,259.3 492.0,259.0 493.0,259.0 493.0,258.6 494.0,258.6 494.0,259.7 495.0,259.7 495.0,258.9 496.0,258.9 496.0,258.8 497.0,258.8 497.0,259.5 498.0,259.5 498.0,259.2 499.0,259.2 499.0,259.4 500.0,259.4 500.0,259.7 501.0,259.7 501.0,259.4 502.0,259.4 502.0,259.2 503.0,259.2 503.0,258.6 504.0,258.6 504.0,259.3 505.0,259.3 505.0,259.0 506.0,259.0 506.0,259.1 507.0,259.1 507.0,258.5 508.0,258.5 508.0,258.9 509.0,258.9 509.0,259.2 510.0,259.2 510.0,260.0 511.0,260.0 511.0,259.8 512.0,259.8 512.0,259.1 513.0,259.1 513.0,259.8 514.0,259.8 514.0,259.5 515.0,259.5 515.0,259.1 516.0,259.1 516.0,259.9 517.0,259.9 517.0,258.5 518.0,258.5 518.0,259.1 519.0,259.1 519.0,258.2 520.0,258.2 520.0,259.2 521.0,259.2 521.0,259.3 522.0,259.3 522.0,259.2 523.0,259.2 523.0,258.9 524.0,258.9 524.0,259.0 525.0,259.0 525.0,258.7 526.0,258.7 526.0,265.8 525.0,265.8 525.0,266.3 524.0,266.3 524.0,265.4 523.0,265.4 523.0,266.5 522.0,266.5 522.0,267.0 521.0,267.0 521.0,266.1 520.0,266.1 520.0,265.7 519.0,265.7 519.0,266.0 518.0,266.0 518.0,265.4 517.0,265.4 517.0,265.7 516.0,265.7 516.0,267.2 515.0,267.2 515.0,265.8 514.0,265.8 514.0,266.0 513.0,266.0 513.0,266.4 512.0,266.4 512.0,267.1 511.0,267.1 511.0,266.6 510.0,266.6 510.0,267.0 509.0,267.0 509.0,266.3 508.0,266.3 508.0,265.6 507.0,265.6 507.0,266.0 506.0,266.0 506.0,266.0 505.0,266.0 505.0,266.4 504.0,266.4 504.0,265.9 503.0,265.9 503.0,266.3 502.0,266.3 502.0,266.2 501.0,266.2 501.0,266.8 500.0,266.8 500.0,266.1 499.0,266.1 499.0,266.6 498.0,266.6 498.0,265.7 497.0,265.7 497.0,266.6 496.0,266.6 496.0,265.8 495.0,265.8 495.0,265.9 494.0,265.9 494.0,266.1 493.0,266.1 493.0,265.9 492.0,265.9 492.0,265.8 491.0,265.8 491.0,265.7 490.0,265.7 490.0,265.8 489.0,265.8 489.0,265.7 488.0,265.7 488.0,265.6 487.0,265.6 487.0,266.2 486.0,266.2 486.0,266.2 485.0,266.2 485.0,266.9 484.0,266.9 484.0,265.8 483.0,265.8 483.0,266.1 482.0,266.1 482.0,266.1 481.0,266.1 481.0,266.0 480.0,266.0 480.0,266.1 479.0,266.1 479.0,266.0 478.0,266.0 478.0,266.5 477.0,266.5 477.0,267.2 476.0,267.2 476.0,265.7 475.0,265.7 475.0,266.3 474.0,266.3 474.0,266.3 473.0,266.3 473.0,266.8 472.0,266.8 472.0,266.1 471.0,266.1 471.0,265.8 470.0,265.8 470.0,265.8 469.0,265.8 469.0,265.4 468.0,265.4 468.0,266.1 467.0,266.1 467.0,267.2 466.0,267.2 466.0,266.0 465.0,266.0 465.0,266.5 464.4,266.5Z" fill="#D95319"/><path d="M66.0,261.5 67.0,261.5 67.0,262.2 68.0,262.2 68.0,261.6 69.0,261.6 69.0,262.1 70.0,262.1 70.0,262.1 71.0,262.1 71.0,261.9 72.0,261.9 72.0,261.7 73.0,261.7 73.0,261.1 74.0,261.1 74.0,261.7 75.0,261.7 75.0,262.1 76.0,262.1 76.0,262.2 77.0,262.2 77.0,261.9 78.0,261.9 78.0,262.0 79.0,262.0 79.0,261.7 80.0,261.7 80.0,261.4 81.0,261.4 81.0,262.3 82.0,262.3 82.0,262.0 83.0,262.0 83.0,262.3 84.0,262.3 84.0,262.6 85.0,262.6 85.0,262.2 86.0,262.2 86.0,262.6 87.0,262.6 87.0,262.5 88.0,262.5 88.0,262.0 89.0,262.0 89.0,261.3 90.0,261.3 90.0,261.6 91.0,261.6 91.0,262.1 92.0,262.1 92.0,261.7 93.0,261.7 93.0,262.4 94.0,262.4 94.0,261.8 95.0,261.8 95.0,262.0 96.0,262.0 96.0,262.1 97.0,262.1 97.0,262.5 98.0,262.5 98.0,261.4 99.0,261.4 99.0,260.9 100.0,260.9 100.0,262.2 101.0,262.2 101.0,261.8 102.0,261.8 102.0,262.5 103.0,262.5 103.0,261.2 104.0,261.2 104.0,261.8 105.0,261.8 105.0,261.0 106.0,261.0 106.0,261.2 107.0,261.2 107.0,261.2 108.0,261.2 108.0,261.8 109.0,261.8 109.0,262.6 110.0,262.6 110.0,262.2 111.0,262.2 111.0,262.4 112.0,262.4 112.0,262.4 113.0,262.4 113.0,262.2 114.0,262.2 114.0,268.5 113.0,268.5 113.0,268.8 112.0,268.8 112.0,268.5 111.0,268.5 111.0,268.3 110.0,268.3 110.0,268.7 109.0,268.7 109.0,268.2 108.0,268.2 108.0,268.8 107.0,268.8 107.0,268.9 106.0,268.9 106.0,269.6 105.0,269.6 105.0,269.2 104.0,269.2 104.0,268.7 103.0,268.7 103.0,268.2 102.0,268.2 102.0,268.6 101.0,268.6 101.0,270.1 100.0,270.1 100.0,268.3 99.0,268.3 99.0,269.0 98.0,269.0 98.0,269.2 97.0,269.2 97.0,268.8 96.0,268.8 96.0,269.3 95.0,269.3 95.0,269.4 94.0,269.4 94.0,268.5 93.0,268.5 93.0,268.9 92.0,268.9 92.0,268.7 91.0,268.7 91.0,268.8 90.0,268.8 90.0,268.3 89.0,268.3 89.0,268.8 88.0,268.8 88.0,268.4 87.0,268.4 87.0,268.6 86.0,268.6 86.0,268.5 85.0,268.5 85.0,269.2 84.0,269.2 84.0,269.9 83.0,269.9 83.0,269.1 82.0,269.1 82.0,268.6 81.0,268.6 81.0,269.2 80.0,269.2 80.0,269.6 79.0,269.6 79.0,268.8 78.0,268.8 78.0,268.7 77.0,268.7 77.0,269.1 76.0,269.1 76.0,269.2 75.0,269.2 75.0,268.8 74.0,268.8 74.0,269.0 73.0,269.0 73.0,268.9 72.0,268.9 72.0,269.2 71.0,269.2 71.0,269.4 70.0,269.4 70.0,268.6 69.0,268.6 69.0,268.6 68.0,268.6 68.0,268.2 67.0,268.2 67.0,268.3 66.0,268.3Z" fill="#EDB120"/><path d="M114.0,262.6 115.0,262.6 115.0,261.7 116.0,261.7 116.0,261.0 117.0,261.0 117.0,259.9 118.0,259.9 118.0,260.1 119.0,260.1 119.0,259.4 120.0,259.4 120.0,257.0 121.0,257.0 121.0,256.6 122.0,256.6 122.0,256.3 123.0,256.3 123.0,255.3 124.0,255.3 124.0,254.3 125.0,254.3 125.0,254.2 126.0,254.2 126.0,252.3 127.0,252.3 127.0,252.8 128.0,252.8 128.0,250.8 129.0,250.8 129.0,250.9 130.0,250.9 130.0,249.4 131.0,249.4 131.0,248.4 132.0,248.4 132.0,248.2 133.0,248.2 133.0,247.5 134.0,247.5 134.0,246.9 135.0,246.9 135.0,246.1 136.0,246.1 136.0,244.2 137.0,244.2 137.0,243.7 138.0,243.7 138.0,242.8 139.0,242.8 139.0,242.8 140.0,242.8 140.0,241.8 141.0,241.8 141.0,241.0 142.0,241.0 142.0,240.4 143.0,240.4 143.0,239.9 144.0,239.9 144.0,238.9 145.0,238.9 145.0,237.2 146.0,237.2 146.0,236.8 147.0,236.8 147.0,235.8 148.0,235.8 148.0,235.4 149.0,235.4 149.0,233.8 150.0,233.8 150.0,232.0 151.0,232.0 151.0,231.8 152.0,231.8 152.0,231.8 153.0,231.8 153.0,230.8 154.0,230.8 154.0,229.9 155.0,229.9 155.0,228.9 156.0,228.9 156.0,228.5 157.0,228.5 157.0,227.7 158.0,227.7 158.0,225.6 159.0,225.6 159.0,225.5 160.0,225.5 160.0,225.0 161.0,225.0 161.0,223.3 162.0,223.3 162.0,223.8 163.0,223.8 163.0,222.8 164.0,222.8 164.0,222.1 165.0,222.1 165.0,220.9 166.0,220.9 166.0,220.4 167.0,220.4 167.0,219.3 168.0,219.3 168.0,218.0 169.0,218.0 169.0,217.3 170.0,217.3 170.0,217.1 171.0,217.1 171.0,215.4 172.0,215.4 172.0,214.7 173.0,214.7 173.0,214.2 174.0,214.2 174.0,213.5 175.0,213.5 175.0,212.5 176.0,212.5 176.0,210.7 177.0,210.7 177.0,209.5 178.0,209.5 178.0,208.8 179.0,208.8 179.0,209.5 180.0,209.5 180.0,207.9 181.0,207.9 181.0,207.6 182.0,207.6 182.0,206.3 183.0,206.3 183.0,205.2 184.0,205.2 184.0,204.2 185.0,204.2 185.0,203.1 186.0,203.1 186.0,203.1 187.0,203.1 187.0,203.0 188.0,203.0 188.0,201.0 189.0,201.0 189.0,201.1 190.0,201.1 190.0,198.8 191.0,198.8 191.0,199.8 192.0,199.8 192.0,198.4 193.0,198.4 193.0,197.4 194.0,197.4 194.0,197.0 195.0,197.0 195.0,195.8 196.0,195.8 196.0,195.5 197.0,195.5 197.0,195.0 198.0,195.0 198.0,193.3 199.0,193.3 199.0,192.6 200.0,192.6 200.0,192.4 201.0,192.4 201.0,190.7 202.0,190.7 202.0,190.8 203.0,190.8 203.0,190.4 203.6,190.4 203.6,199.1 203.0,199.1 203.0,199.9 202.0,199.9 202.0,200.6 201.0,200.6 201.0,201.8 200.0,201.8 200.0,202.9 199.0,202.9 199.0,203.1 198.0,203.1 198.0,204.1 197.0,204.1 197.0,204.2 196.0,204.2 196.0,205.3 195.0,205.3 195.0,206.7 194.0,206.7 194.0,207.0 193.0,207.0 193.0,207.8 192.0,207.8 192.0,208.8 191.0,208.8 191.0,209.0 190.0,209.0 190.0,209.7 189.0,209.7 189.0,211.4 188.0,211.4 188.0,211.5 187.0,211.5 187.0,211.9 186.0,211.9 186.0,213.8 185.0,213.8 185.0,213.9 184.0,213.9 184.0,214.5 183.0,214.5 183.0,215.7 182.0,215.7 182.0,217.0 181.0,217.0 181.0,217.3 180.0,217.3 180.0,218.0 179.0,218.0 179.0,219.2 178.0,219.2 178.0,219.7 177.0,219.7 177.0,221.4 176.0,221.4 176.0,221.6 175.0,221.6 175.0,222.0 174.0,222.0 174.0,223.3 173.0,223.3 173.0,224.1 172.0,224.1 172.0,225.4 171.0,225.4 171.0,226.3 170.0,226.3 170.0,227.0 169.0,227.0 169.0,226.9 168.0,226.9 168.0,228.7 167.0,228.7 167.0,228.9 166.0,228.9 166.0,229.8 165.0,229.8 165.0,230.6 164.0,230.6 164.0,231.4 163.0,231.4 163.0,233.1 162.0,233.1 162.0,232.9 161.0,232.9 161.0,233.7 160.0,233.7 160.0,234.4 159.0,234.4 159.0,235.2 158.0,235.2 158.0,235.9 157.0,235.9 157.0,237.1 156.0,237.1 156.0,238.0 155.0,238.0 155.0,238.7 154.0,238.7 154.0,240.3 153.0,240.3 153.0,240.5 152.0,240.5 152.0,241.9 151.0,241.9 151.0,242.2 150.0,242.2 150.0,243.1 149.0,243.1 149.0,243.7 148.0,243.7 148.0,245.0 147.0,245.0 147.0,245.1 146.0,245.1 146.0,247.0 145.0,247.0 145.0,247.0 144.0,247.0 144.0,248.1 143.0,248.1 143.0,249.4 142.0,249.4 142.0,250.5 141.0,250.5 141.0,251.0 140.0,251.0 140.0,251.0 139.0,251.0 139.0,252.4 138.0,252.4 138.0,253.1 137.0,253.1 137.0,253.7 136.0,253.7 136.0,255.5 135.0,255.5 135.0,256.0 134.0,256.0 134.0,256.4 133.0,256.4 133.0,257.4 132.0,257.4 132.0,258.8 131.0,258.8 131.0,259.0 130.0,259.0 130.0,259.7 129.0,259.7 129.0,261.0 128.0,261.0 128.0,262.4 127.0,262.4 127.0,262.9 126.0,262.9 126.0,263.2 125.0,263.2 125.0,265.4 124.0,265.4 124.0,264.9 123.0,264.9 123.0,266.1 122.0,266.1 122.0,266.9 121.0,266.9 121.0,268.5 120.0,268.5 120.0,268.7 119.0,268.7 119.0,270.1 118.0,270.1 118.0,269.8 117.0,269.8 117.0,270.2 116.0,270.2 116.0,269.5 115.0,269.5 115.0,270.7 114.0,270.7Z" fill="#EDB120"/><path d="M203.6,258.6 204.0,258.6 204.0,259.1 205.0,259.1 205.0,258.6 206.0,258.6 206.0,258.5 207.0,258.5 207.0,259.0 208.0,259.0 208.0,259.2 209.0,259.2 209.0,259.4 210.0,259.4 210.0,258.8 211.0,258.8 211.0,259.5 212.0,259.5 212.0,258.7 213.0,258.7 213.0,258.7 214.0,258.7 214.0,259.2 215.0,259.2 215.0,258.8 216.0,258.8 216.0,259.1 217.0,259.1 217.0,259.0 218.0,259.0 218.0,259.1 219.0,259.1 219.0,259.0 220.0,259.0 220.0,258.5 221.0,258.5 221.0,259.4 222.0,259.4 222.0,258.4 223.0,258.4 223.0,259.3 224.0,259.3 224.0,258.8 225.0,258.8 225.0,259.2 226.0,259.2 226.0,259.5 227.0,259.5 227.0,259.2 228.0,259.2 228.0,259.0 229.0,259.0 229.0,258.1 230.0,258.1 230.0,259.4 230.8,259.4 230.8,268.2 230.0,268.2 230.0,267.9 229.0,267.9 229.0,267.9 228.0,267.9 228.0,267.7 227.0,267.7 227.0,267.9 226.0,267.9 226.0,268.7 225.0,268.7 225.0,268.8 224.0,268.8 224.0,268.0 223.0,268.0 223.0,267.7 222.0,267.7 222.0,268.0 221.0,268.0 221.0,268.5 220.0,268.5 220.0,267.4 219.0,267.4 219.0,268.1 218.0,268.1 218.0,267.6 217.0,267.6 217.0,267.8 216.0,267.8 216.0,267.7 215.0,267.7 215.0,267.7 214.0,267.7 214.0,267.5 213.0,267.5 213.0,268.5 212.0,268.5 212.0,268.1 211.0,268.1 211.0,269.5 210.0,269.5 210.0,269.0 209.0,269.0 209.0,268.2 208.0,268.2 208.0,267.4 207.0,267.4 207.0,268.0 206.0,268.0 206.0,268.0 205.0,268.0 205.0,267.9 204.0,267.9 204.0,268.4 203.6,268.4Z" fill="#EDB120"/><path d="M230.8,192.5 231.0,192.5 231.0,192.9 232.0,192.9 232.0,192.6 233.0,192.6 233.0,191.7 234.0,191.7 234.0,190.0 235.0,190.0 235.0,189.9 236.0,189.9 236.0,188.2 237.0,188.2 237.0,187.3 238.0,187.3 238.0,186.4 239.0,186.4 239.0,185.4 240.0,185.4 240.0,184.7 241.0,184.7 241.0,183.6 242.0,183.6 242.0,182.7 243.0,182.7 243.0,182.4 244.0,182.4 244.0,180.8 245.0,180.8 245.0,179.6 246.0,179.6 246.0,178.8 247.0,178.8 247.0,178.5 248.0,178.5 248.0,177.7 249.0,177.7 249.0,176.9 250.0,176.9 250.0,175.8 251.0,175.8 251.0,175.3 252.0,175.3 252.0,173.9 253.0,173.9 253.0,173.8 254.0,173.8 254.0,173.4 255.0,173.4 255.0,171.7 256.0,171.7 256.0,172.4 257.0,172.4 257.0,170.8 258.0,170.8 258.0,170.3 259.0,170.3 259.0,169.0 260.0,169.0 260.0,168.2 261.0,168.2 261.0,167.5 262.0,167.5 262.0,167.1 263.0,167.1 263.0,166.6 264.0,166.6 264.0,165.1 265.0,165.1 265.0,164.8 266.0,164.8 266.0,164.5 267.0,164.5 267.0,163.7 268.0,163.7 268.0,163.1 269.0,163.1 269.0,162.3 270.0,162.3 270.0,160.9 271.0,160.9 271.0,160.0 272.0,160.0 272.0,159.5 273.0,159.5 273.0,158.8 274.0,158.8 274.0,157.5 275.0,157.5 275.0,156.8 276.0,156.8 276.0,155.1 277.0,155.1 277.0,154.4 278.0,154.4 278.0,153.2 279.0,153.2 279.0,151.6 280.0,151.6 280.0,150.5 281.0,150.5 281.0,150.5 282.0,150.5 282.0,148.2 283.0,148.2 283.0,147.5 284.0,147.5 284.0,146.5 285.0,146.5 285.0,146.9 286.0,146.9 286.0,144.4 287.0,144.4 287.0,144.8 288.0,144.8 288.0,143.8 289.0,143.8 289.0,142.5 290.0,142.5 290.0,142.3 291.0,142.3 291.0,141.7 292.0,141.7 292.0,140.3 293.0,140.3 293.0,139.5 294.0,139.5 294.0,138.4 295.0,138.4 295.0,138.4 296.0,138.4 296.0,138.5 297.0,138.5 297.0,137.2 298.0,137.2 298.0,136.7 299.0,136.7 299.0,136.0 300.0,136.0 300.0,135.5 301.0,135.5 301.0,134.5 302.0,134.5 302.0,134.0 303.0,134.0 303.0,133.0 304.0,133.0 304.0,131.8 305.0,131.8 305.0,130.5 306.0,130.5 306.0,130.1 307.0,130.1 307.0,129.0 308.0,129.0 308.0,128.1 309.0,128.1 309.0,125.9 310.0,125.9 310.0,126.4 311.0,126.4 311.0,125.9 312.0,125.9 312.0,136.0 311.0,136.0 311.0,136.1 310.0,136.1 310.0,138.0 309.0,138.0 309.0,138.6 308.0,138.6 308.0,138.9 307.0,138.9 307.0,140.0 306.0,140.0 306.0,141.1 305.0,141.1 305.0,142.0 304.0,142.0 304.0,142.1 303.0,142.1 303.0,142.7 302.0,142.7 302.0,144.7 301.0,144.7 301.0,145.3 300.0,145.3 300.0,145.4 299.0,145.4 299.0,146.9 298.0,146.9 298.0,146.7 297.0,146.7 297.0,148.2 296.0,148.2 296.0,149.4 295.0,149.4 295.0,149.1 294.0,149.1 294.0,150.2 293.0,150.2 293.0,151.5 292.0,151.5 292.0,151.8 291.0,151.8 291.0,151.6 290.0,151.6 290.0,152.8 289.0,152.8 289.0,154.2 288.0,154.2 288.0,155.4 287.0,155.4 287.0,156.0 286.0,156.0 286.0,156.3 285.0,156.3 285.0,156.2 284.0,156.2 284.0,157.1 283.0,157.1 283.0,158.8 282.0,158.8 282.0,159.0 281.0,159.0 281.0,159.7 280.0,159.7 280.0,160.5 279.0,160.5 279.0,161.6 278.0,161.6 278.0,161.9 277.0,161.9 277.0,163.7 276.0,163.7 276.0,163.5 275.0,163.5 275.0,164.7 274.0,164.7 274.0,165.9 273.0,165.9 273.0,168.1 272.0,168.1 272.0,168.2 271.0,168.2 271.0,170.0 270.0,170.0 270.0,170.3 269.0,170.3 269.0,171.6 268.0,171.6 268.0,172.1 267.0,172.1 267.0,173.3 266.0,173.3 266.0,175.8 265.0,175.8 265.0,175.4 264.0,175.4 264.0,176.7 263.0,176.7 263.0,176.0 262.0,176.0 262.0,177.4 261.0,177.4 261.0,177.9 260.0,177.9 260.0,178.5 259.0,178.5 259.0,178.8 258.0,178.8 258.0,179.6 257.0,179.6 257.0,180.3 256.0,180.3 256.0,181.1 255.0,181.1 255.0,181.8 254.0,181.8 254.0,182.4 253.0,182.4 253.0,183.9 252.0,183.9 252.0,183.6 251.0,183.6 251.0,184.3 250.0,184.3 250.0,185.5 249.0,185.5 249.0,186.1 248.0,186.1 248.0,186.9 247.0,186.9 247.0,188.5 246.0,188.5 246.0,189.2 245.0,189.2 245.0,190.2 244.0,190.2 244.0,191.1 243.0,191.1 243.0,191.9 242.0,191.9 242.0,193.4 241.0,193.4 241.0,194.4 240.0,194.4 240.0,194.4 239.0,194.4 239.0,195.8 238.0,195.8 238.0,196.7 237.0,196.7 237.0,197.7 236.0,197.7 236.0,198.8 235.0,198.8 235.0,199.6 234.0,199.6 234.0,201.3 233.0,201.3 233.0,203.3 232.0,203.3 232.0,203.1 231.0,203.1 231.0,204.3 230.8,204.3Z" fill="#EDB120"/><path d="M312.0,256.2 313.0,256.2 313.0,256.5 314.0,256.5 314.0,257.2 315.0,257.2 315.0,256.8 316.0,256.8 316.0,257.0 317.0,257.0 317.0,257.6 318.0,257.6 318.0,257.8 319.0,257.8 319.0,258.1 320.0,258.1 320.0,259.5 321.0,259.5 321.0,259.0 322.0,259.0 322.0,258.6 323.0,258.6 323.0,258.7 324.0,258.7 324.0,259.1 325.0,259.1 325.0,259.1 326.0,259.1 326.0,259.0 327.0,259.0 327.0,258.8 328.0,258.8 328.0,258.3 329.0,258.3 329.0,259.3 330.0,259.3 330.0,258.2 331.0,258.2 331.0,258.3 332.0,258.3 332.0,259.6 333.0,259.6 333.0,258.9 334.0,258.9 334.0,259.2 335.0,259.2 335.0,259.2 336.0,259.2 336.0,259.3 337.0,259.3 337.0,258.4 337.5,258.4 337.5,261.0 337.0,261.0 337.0,260.7 336.0,260.7 336.0,260.3 335.0,260.3 335.0,259.3 334.0,259.3 334.0,260.7 333.0,260.7 333.0,260.7 332.0,260.7 332.0,260.2 331.0,260.2 331.0,260.7 330.0,260.7 330.0,259.9 329.0,259.9 329.0,259.8 328.0,259.8 328.0,260.3 327.0,260.3 327.0,259.9 326.0,259.9 326.0,260.3 325.0,260.3 325.0,260.0 324.0,260.0 324.0,259.9 323.0,259.9 323.0,260.7 322.0,260.7 322.0,259.7 321.0,259.7 321.0,260.0 320.0,260.0 320.0,260.9 319.0,260.9 319.0,260.7 318.0,260.7 318.0,261.2 317.0,261.2 317.0,259.9 316.0,259.9 316.0,260.3 315.0,260.3 315.0,259.7 314.0,259.7 314.0,260.4 313.0,260.4 313.0,259.8 312.0,259.8Z" fill="#EDB120"/><path d="M337.5,146.5 338.0,146.5 338.0,142.1 339.0,142.1 339.0,136.5 340.0,136.5 340.0,133.2 341.0,133.2 341.0,129.2 342.0,129.2 342.0,126.4 343.0,126.4 343.0,124.1 344.0,124.1 344.0,122.6 345.0,122.6 345.0,121.9 346.0,121.9 346.0,120.5 347.0,120.5 347.0,119.2 348.0,119.2 348.0,118.7 349.0,118.7 349.0,116.9 350.0,116.9 350.0,115.0 351.0,115.0 351.0,114.4 352.0,114.4 352.0,112.9 353.0,112.9 353.0,110.5 354.0,110.5 354.0,109.1 355.0,109.1 355.0,109.2 356.0,109.2 356.0,108.9 357.0,108.9 357.0,108.2 358.0,108.2 358.0,107.1 359.0,107.1 359.0,106.6 360.0,106.6 360.0,104.0 361.0,104.0 361.0,105.1 362.0,105.1 362.0,103.3 363.0,103.3 363.0,104.0 364.0,104.0 364.0,102.4 365.0,102.4 365.0,101.9 366.0,101.9 366.0,100.8 367.0,100.8 367.0,100.9 368.0,100.9 368.0,100.1 369.0,100.1 369.0,99.8 370.0,99.8 370.0,98.7 371.0,98.7 371.0,97.9 372.0,97.9 372.0,97.5 373.0,97.5 373.0,95.9 374.0,95.9 374.0,95.7 375.0,95.7 375.0,95.5 376.0,95.5 376.0,93.9 377.0,93.9 377.0,93.4 378.0,93.4 378.0,92.8 379.0,92.8 379.0,92.1 380.0,92.1 380.0,91.0 381.0,91.0 381.0,88.1 382.0,88.1 382.0,88.6 383.0,88.6 383.0,87.5 384.0,87.5 384.0,86.7 385.0,86.7 385.0,84.9 386.0,84.9 386.0,84.1 387.0,84.1 387.0,83.2 388.0,83.2 388.0,82.9 389.0,82.9 389.0,81.8 390.0,81.8 390.0,80.6 391.0,80.6 391.0,79.7 392.0,79.7 392.0,78.7 392.6,78.7 392.6,87.1 392.0,87.1 392.0,87.9 391.0,87.9 391.0,90.6 390.0,90.6 390.0,90.2 389.0,90.2 389.0,91.2 388.0,91.2 388.0,94.6 387.0,94.6 387.0,94.7 386.0,94.7 386.0,96.3 385.0,96.3 385.0,96.9 384.0,96.9 384.0,97.3 383.0,97.3 383.0,98.4 382.0,98.4 382.0,99.9 381.0,99.9 381.0,100.5 380.0,100.5 380.0,102.2 379.0,102.2 379.0,102.7 378.0,102.7 378.0,104.2 377.0,104.2 377.0,105.0 376.0,105.0 376.0,106.4 375.0,106.4 375.0,107.6 374.0,107.6 374.0,108.4 373.0,108.4 373.0,110.0 372.0,110.0 372.0,111.2 371.0,111.2 371.0,112.7 370.0,112.7 370.0,113.3 369.0,113.3 369.0,115.7 368.0,115.7 368.0,115.3 367.0,115.3 367.0,116.2 366.0,116.2 366.0,116.8 365.0,116.8 365.0,116.1 364.0,116.1 364.0,116.8 363.0,116.8 363.0,117.8 362.0,117.8 362.0,118.8 361.0,118.8 361.0,118.9 360.0,118.9 360.0,119.1 359.0,119.1 359.0,119.0 358.0,119.0 358.0,119.7 357.0,119.7 357.0,119.7 356.0,119.7 356.0,119.6 355.0,119.6 355.0,120.8 354.0,120.8 354.0,121.4 353.0,121.4 353.0,121.2 352.0,121.2 352.0,123.3 351.0,123.3 351.0,123.4 350.0,123.4 350.0,125.2 349.0,125.2 349.0,125.9 348.0,125.9 348.0,128.2 347.0,128.2 347.0,129.1 346.0,129.1 346.0,130.9 345.0,130.9 345.0,132.5 344.0,132.5 344.0,133.6 343.0,133.6 343.0,136.3 342.0,136.3 342.0,139.0 341.0,139.0 341.0,142.9 340.0,142.9 340.0,146.8 339.0,146.8 339.0,149.1 338.0,149.1 338.0,151.7 337.5,151.7Z" fill="#EDB120"/><path d="M392.6,253.8 393.0,253.8 393.0,254.7 394.0,254.7 394.0,254.3 395.0,254.3 395.0,255.9 396.0,255.9 396.0,257.6 397.0,257.6 397.0,258.6 398.0,258.6 398.0,260.4 399.0,260.4 399.0,259.9 400.0,259.9 400.0,260.6 401.0,260.6 401.0,260.6 402.0,260.6 402.0,259.5 403.0,259.5 403.0,260.0 404.0,260.0 404.0,260.5 405.0,260.5 405.0,261.0 406.0,261.0 406.0,260.1 407.0,260.1 407.0,260.9 408.0,260.9 408.0,260.4 409.0,260.4 409.0,260.5 410.0,260.5 410.0,260.0 411.0,260.0 411.0,259.1 412.0,259.1 412.0,261.0 413.0,261.0 413.0,259.8 414.0,259.8 414.0,258.7 415.0,258.7 415.0,257.6 416.0,257.6 416.0,257.9 417.0,257.9 417.0,257.7 418.0,257.7 418.0,257.8 419.0,257.8 419.0,258.1 420.0,258.1 420.0,257.9 421.0,257.9 421.0,257.2 422.0,257.2 422.0,257.7 423.0,257.7 423.0,257.5 424.0,257.5 424.0,258.0 425.0,258.0 425.0,257.1 426.0,257.1 426.0,258.0 427.0,258.0 427.0,256.3 428.0,256.3 428.0,258.1 429.0,258.1 429.0,257.3 430.0,257.3 430.0,257.5 431.0,257.5 431.0,258.1 432.0,258.1 432.0,257.9 433.0,257.9 433.0,259.2 434.0,259.2 434.0,259.6 435.0,259.6 435.0,260.1 436.0,260.1 436.0,260.4 437.0,260.4 437.0,259.7 438.0,259.7 438.0,260.0 439.0,260.0 439.0,260.2 440.0,260.2 440.0,260.1 441.0,260.1 441.0,260.4 442.0,260.4 442.0,260.4 443.0,260.4 443.0,259.9 444.0,259.9 444.0,260.4 445.0,260.4 445.0,260.5 446.0,260.5 446.0,260.1 447.0,260.1 447.0,260.7 448.0,260.7 448.0,259.9 449.0,259.9 449.0,260.9 449.6,260.9 449.6,260.9 449.0,260.9 449.0,261.1 448.0,261.1 448.0,261.9 447.0,261.9 447.0,261.3 446.0,261.3 446.0,261.2 445.0,261.2 445.0,261.9 444.0,261.9 444.0,260.5 443.0,260.5 443.0,261.6 442.0,261.6 442.0,260.8 441.0,260.8 441.0,260.4 440.0,260.4 440.0,260.8 439.0,260.8 439.0,260.6 438.0,260.6 438.0,260.9 437.0,260.9 437.0,261.3 436.0,261.3 436.0,260.7 435.0,260.7 435.0,260.8 434.0,260.8 434.0,261.0 433.0,261.0 433.0,261.5 432.0,261.5 432.0,260.7 431.0,260.7 431.0,261.7 430.0,261.7 430.0,261.2 429.0,261.2 429.0,260.6 428.0,260.6 428.0,261.6 427.0,261.6 427.0,260.7 426.0,260.7 426.0,260.9 425.0,260.9 425.0,261.1 424.0,261.1 424.0,260.9 423.0,260.9 423.0,261.2 422.0,261.2 422.0,261.0 421.0,261.0 421.0,260.9 420.0,260.9 420.0,261.1 419.0,261.1 419.0,260.5 418.0,260.5 418.0,261.0 417.0,261.0 417.0,261.5 416.0,261.5 416.0,260.6 415.0,260.6 415.0,261.5 414.0,261.5 414.0,260.5 413.0,260.5 413.0,261.3 412.0,261.3 412.0,260.5 411.0,260.5 411.0,261.0 410.0,261.0 410.0,260.7 409.0,260.7 409.0,260.9 408.0,260.9 408.0,261.2 407.0,261.2 407.0,260.9 406.0,260.9 406.0,261.0 405.0,261.0 405.0,260.5 404.0,260.5 404.0,261.0 403.0,261.0 403.0,261.2 402.0,261.2 402.0,260.7 401.0,260.7 401.0,261.7 400.0,261.7 400.0,260.4 399.0,260.4 399.0,261.6 398.0,261.6 398.0,261.1 397.0,261.1 397.0,261.1 396.0,261.1 396.0,260.6 395.0,260.6 395.0,261.7 394.0,261.7 394.0,260.8 393.0,260.8 393.0,261.5 392.6,261.5Z" fill="#EDB120"/><path d="M449.3,87.8 450.0,87.8 450.0,88.5 451.0,88.5 451.0,87.4 452.0,87.4 452.0,86.9 453.0,86.9 453.0,85.1 454.0,85.1 454.0,83.8 455.0,83.8 455.0,82.8 456.0,82.8 456.0,81.3 457.0,81.3 457.0,78.9 458.0,78.9 458.0,78.0 459.0,78.0 459.0,77.4 460.0,77.4 460.0,75.6 461.0,75.6 461.0,73.6 462.0,73.6 462.0,72.7 463.0,72.7 463.0,70.4 464.0,70.4 464.0,70.2 464.4,70.2 464.4,74.4 464.0,74.4 464.0,77.0 463.0,77.0 463.0,80.3 462.0,80.3 462.0,80.8 461.0,80.8 461.0,82.7 460.0,82.7 460.0,83.4 459.0,83.4 459.0,84.9 458.0,84.9 458.0,87.3 457.0,87.3 457.0,88.3 456.0,88.3 456.0,90.7 455.0,90.7 455.0,92.3 454.0,92.3 454.0,95.3 453.0,95.3 453.0,101.5 452.0,101.5 452.0,100.5 451.0,100.5 451.0,101.0 450.0,101.0 450.0,102.0 449.3,102.0Z" fill="#EDB120"/><path d="M464.4,251.7 465.0,251.7 465.0,251.4 466.0,251.4 466.0,253.0 467.0,253.0 467.0,253.9 468.0,253.9 468.0,254.4 469.0,254.4 469.0,254.3 470.0,254.3 470.0,255.8 471.0,255.8 471.0,256.9 472.0,256.9 472.0,255.9 473.0,255.9 473.0,258.6 474.0,258.6 474.0,258.4 475.0,258.4 475.0,262.8 476.0,262.8 476.0,261.9 477.0,261.9 477.0,262.3 478.0,262.3 478.0,261.9 479.0,261.9 479.0,261.9 480.0,261.9 480.0,262.0 481.0,262.0 481.0,262.6 482.0,262.6 482.0,262.5 483.0,262.5 483.0,261.9 484.0,261.9 484.0,261.4 485.0,261.4 485.0,262.5 486.0,262.5 486.0,262.4 487.0,262.4 487.0,260.5 488.0,260.5 488.0,258.4 489.0,258.4 489.0,257.1 490.0,257.1 490.0,255.7 491.0,255.7 491.0,256.1 492.0,256.1 492.0,255.9 493.0,255.9 493.0,255.2 494.0,255.2 494.0,255.1 495.0,255.1 495.0,256.3 496.0,256.3 496.0,256.3 497.0,256.3 497.0,255.4 498.0,255.4 498.0,255.0 499.0,255.0 499.0,256.0 500.0,256.0 500.0,255.1 501.0,255.1 501.0,256.0 502.0,256.0 502.0,257.4 503.0,257.4 503.0,257.9 504.0,257.9 504.0,258.0 505.0,258.0 505.0,257.7 506.0,257.7 506.0,258.9 507.0,258.9 507.0,262.6 508.0,262.6 508.0,262.9 509.0,262.9 509.0,262.5 510.0,262.5 510.0,262.3 511.0,262.3 511.0,261.9 512.0,261.9 512.0,262.6 513.0,262.6 513.0,262.6 514.0,262.6 514.0,262.3 515.0,262.3 515.0,262.5 516.0,262.5 516.0,262.6 517.0,262.6 517.0,262.1 518.0,262.1 518.0,261.5 519.0,261.5 519.0,262.1 520.0,262.1 520.0,263.1 521.0,263.1 521.0,262.4 522.0,262.4 522.0,258.8 523.0,258.8 523.0,258.8 524.0,258.8 524.0,258.8 525.0,258.8 525.0,259.0 526.0,259.0 526.0,259.6 525.0,259.6 525.0,259.2 524.0,259.2 524.0,259.1 523.0,259.1 523.0,258.9 522.0,258.9 522.0,265.0 521.0,265.0 521.0,264.5 520.0,264.5 520.0,263.8 519.0,263.8 519.0,264.0 518.0,264.0 518.0,264.4 517.0,264.4 517.0,264.1 516.0,264.1 516.0,265.0 515.0,265.0 515.0,264.3 514.0,264.3 514.0,264.1 513.0,264.1 513.0,264.3 512.0,264.3 512.0,264.2 511.0,264.2 511.0,263.9 510.0,263.9 510.0,264.2 509.0,264.2 509.0,264.7 508.0,264.7 508.0,264.8 507.0,264.8 507.0,259.1 506.0,259.1 506.0,259.8 505.0,259.8 505.0,259.3 504.0,259.3 504.0,258.8 503.0,258.8 503.0,260.6 502.0,260.6 502.0,259.0 501.0,259.0 501.0,258.7 500.0,258.7 500.0,259.1 499.0,259.1 499.0,259.4 498.0,259.4 498.0,259.8 497.0,259.8 497.0,259.2 496.0,259.2 496.0,259.3 495.0,259.3 495.0,258.9 494.0,258.9 494.0,259.3 493.0,259.3 493.0,259.3 492.0,259.3 492.0,259.8 491.0,259.8 491.0,258.8 490.0,258.8 490.0,258.7 489.0,258.7 489.0,259.0 488.0,259.0 488.0,262.7 487.0,262.7 487.0,265.6 486.0,265.6 486.0,265.2 485.0,265.2 485.0,265.4 484.0,265.4 484.0,265.3 483.0,265.3 483.0,265.2 482.0,265.2 482.0,265.4 481.0,265.4 481.0,265.1 480.0,265.1 480.0,265.0 479.0,265.0 479.0,265.0 478.0,265.0 478.0,265.9 477.0,265.9 477.0,264.9 476.0,264.9 476.0,265.2 475.0,265.2 475.0,259.3 474.0,259.3 474.0,258.6 473.0,258.6 473.0,259.7 472.0,259.7 472.0,259.5 471.0,259.5 471.0,260.4 470.0,260.4 470.0,259.5 469.0,259.5 469.0,260.6 468.0,260.6 468.0,259.5 467.0,259.5 467.0,260.6 466.0,260.6 466.0,260.6 465.0,260.6 465.0,259.4 464.4,259.4Z" fill="#EDB120"/><path d="M66.0,258.8 67.0,258.8 67.0,259.8 68.0,259.8 68.0,259.6 69.0,259.6 69.0,259.8 70.0,259.8 70.0,259.3 71.0,259.3 71.0,259.7 72.0,259.7 72.0,259.3 73.0,259.3 73.0,259.7 74.0,259.7 74.0,259.4 75.0,259.4 75.0,259.3 76.0,259.3 76.0,259.7 77.0,259.7 77.0,259.7 78.0,259.7 78.0,259.1 79.0,259.1 79.0,259.3 80.0,259.3 80.0,259.3 81.0,259.3 81.0,259.4 82.0,259.4 82.0,259.5 83.0,259.5 83.0,259.1 84.0,259.1 84.0,259.6 85.0,259.6 85.0,259.7 86.0,259.7 86.0,259.4 87.0,259.4 87.0,259.5 88.0,259.5 88.0,259.3 89.0,259.3 89.0,259.5 90.0,259.5 90.0,259.7 91.0,259.7 91.0,258.9 92.0,258.9 92.0,258.7 93.0,258.7 93.0,259.6 94.0,259.6 94.0,259.6 95.0,259.6 95.0,259.3 96.0,259.3 96.0,259.5 97.0,259.5 97.0,259.1 98.0,259.1 98.0,259.5 99.0,259.5 99.0,259.0 100.0,259.0 100.0,259.5 101.0,259.5 101.0,259.7 102.0,259.7 102.0,258.8 103.0,258.8 103.0,259.9 104.0,259.9 104.0,259.4 105.0,259.4 105.0,259.3 106.0,259.3 106.0,259.6 107.0,259.6 107.0,259.7 108.0,259.7 108.0,259.9 109.0,259.9 109.0,259.9 110.0,259.9 110.0,258.9 111.0,258.9 111.0,259.7 112.0,259.7 112.0,259.5 113.0,259.5 113.0,259.4 114.0,259.4 114.0,267.9 113.0,267.9 113.0,267.1 112.0,267.1 112.0,268.5 111.0,268.5 111.0,268.1 110.0,268.1 110.0,267.7 109.0,267.7 109.0,267.7 108.0,267.7 108.0,267.3 107.0,267.3 107.0,267.4 106.0,267.4 106.0,267.9 105.0,267.9 105.0,268.8 104.0,268.8 104.0,267.3 103.0,267.3 103.0,268.2 102.0,268.2 102.0,268.3 101.0,268.3 101.0,267.8 100.0,267.8 100.0,267.6 99.0,267.6 99.0,267.3 98.0,267.3 98.0,268.1 97.0,268.1 97.0,267.8 96.0,267.8 96.0,267.2 95.0,267.2 95.0,267.4 94.0,267.4 94.0,267.8 93.0,267.8 93.0,268.6 92.0,268.6 92.0,268.1 91.0,268.1 91.0,267.9 90.0,267.9 90.0,268.3 89.0,268.3 89.0,268.6 88.0,268.6 88.0,269.2 87.0,269.2 87.0,268.1 86.0,268.1 86.0,267.4 85.0,267.4 85.0,268.0 84.0,268.0 84.0,267.7 83.0,267.7 83.0,268.1 82.0,268.1 82.0,268.3 81.0,268.3 81.0,267.6 80.0,267.6 80.0,268.3 79.0,268.3 79.0,268.1 78.0,268.1 78.0,268.8 77.0,268.8 77.0,267.0 76.0,267.0 76.0,268.3 75.0,268.3 75.0,267.3 74.0,267.3 74.0,267.4 73.0,267.4 73.0,268.1 72.0,268.1 72.0,268.1 71.0,268.1 71.0,268.3 70.0,268.3 70.0,268.2 69.0,268.2 69.0,267.3 68.0,267.3 68.0,267.6 67.0,267.6 67.0,267.7 66.0,267.7Z" fill="#7E2F8E"/><path d="M114.0,258.5 115.0,258.5 115.0,258.3 116.0,258.3 116.0,258.0 117.0,258.0 117.0,256.4 118.0,256.4 118.0,257.0 119.0,257.0 119.0,255.5 120.0,255.5 120.0,254.1 121.0,254.1 121.0,254.4 122.0,254.4 122.0,252.8 123.0,252.8 123.0,252.2 124.0,252.2 124.0,251.5 125.0,251.5 125.0,251.2 126.0,251.2 126.0,249.7 127.0,249.7 127.0,248.9 128.0,248.9 128.0,248.9 129.0,248.9 129.0,247.2 130.0,247.2 130.0,247.1 131.0,247.1 131.0,246.3 132.0,246.3 132.0,245.6 133.0,245.6 133.0,244.5 134.0,244.5 134.0,243.8 135.0,243.8 135.0,243.0 136.0,243.0 136.0,241.5 137.0,241.5 137.0,241.9 138.0,241.9 138.0,240.6 139.0,240.6 139.0,239.1 140.0,239.1 140.0,238.8 141.0,238.8 141.0,237.1 142.0,237.1 142.0,237.2 143.0,237.2 143.0,236.0 144.0,236.0 144.0,235.4 145.0,235.4 145.0,234.5 146.0,234.5 146.0,233.7 147.0,233.7 147.0,232.8 148.0,232.8 148.0,231.9 149.0,231.9 149.0,230.9 150.0,230.9 150.0,230.0 151.0,230.0 151.0,228.9 152.0,228.9 152.0,228.5 153.0,228.5 153.0,226.9 154.0,226.9 154.0,226.4 155.0,226.4 155.0,225.5 156.0,225.5 156.0,224.5 157.0,224.5 157.0,224.7 158.0,224.7 158.0,223.3 159.0,223.3 159.0,222.5 160.0,222.5 160.0,222.0 161.0,222.0 161.0,221.0 162.0,221.0 162.0,220.4 163.0,220.4 163.0,219.6 164.0,219.6 164.0,217.9 165.0,217.9 165.0,217.6 166.0,217.6 166.0,216.2 167.0,216.2 167.0,215.8 168.0,215.8 168.0,215.1 169.0,215.1 169.0,214.8 170.0,214.8 170.0,214.1 171.0,214.1 171.0,212.9 172.0,212.9 172.0,211.9 173.0,211.9 173.0,211.3 174.0,211.3 174.0,210.1 175.0,210.1 175.0,210.1 176.0,210.1 176.0,208.3 177.0,208.3 177.0,208.2 178.0,208.2 178.0,207.4 179.0,207.4 179.0,206.2 180.0,206.2 180.0,204.9 181.0,204.9 181.0,204.5 182.0,204.5 182.0,202.3 183.0,202.3 183.0,202.9 184.0,202.9 184.0,202.1 185.0,202.1 185.0,201.1 186.0,201.1 186.0,200.6 187.0,200.6 187.0,199.8 188.0,199.8 188.0,197.9 189.0,197.9 189.0,198.3 190.0,198.3 190.0,197.1 191.0,197.1 191.0,196.4 192.0,196.4 192.0,195.2 193.0,195.2 193.0,194.4 194.0,194.4 194.0,193.7 195.0,193.7 195.0,193.2 196.0,193.2 196.0,192.9 197.0,192.9 197.0,191.8 198.0,191.8 198.0,190.0 199.0,190.0 199.0,190.2 200.0,190.2 200.0,188.8 201.0,188.8 201.0,189.1 202.0,189.1 202.0,187.0 203.0,187.0 203.0,187.7 203.6,187.7 203.6,196.7 203.0,196.7 203.0,197.0 202.0,197.0 202.0,199.1 201.0,199.1 201.0,198.8 200.0,198.8 200.0,199.7 199.0,199.7 199.0,200.6 198.0,200.6 198.0,201.0 197.0,201.0 197.0,202.1 196.0,202.1 196.0,202.8 195.0,202.8 195.0,204.3 194.0,204.3 194.0,204.8 193.0,204.8 193.0,204.9 192.0,204.9 192.0,206.6 191.0,206.6 191.0,206.5 190.0,206.5 190.0,208.4 189.0,208.4 189.0,207.5 188.0,207.5 188.0,210.0 187.0,210.0 187.0,209.6 186.0,209.6 186.0,211.3 185.0,211.3 185.0,211.3 184.0,211.3 184.0,212.2 183.0,212.2 183.0,213.0 182.0,213.0 182.0,215.1 181.0,215.1 181.0,215.5 180.0,215.5 180.0,215.4 179.0,215.4 179.0,217.1 178.0,217.1 178.0,218.1 177.0,218.1 177.0,218.8 176.0,218.8 176.0,218.5 175.0,218.5 175.0,221.0 174.0,221.0 174.0,220.9 173.0,220.9 173.0,221.7 172.0,221.7 172.0,222.2 171.0,222.2 171.0,223.7 170.0,223.7 170.0,224.2 169.0,224.2 169.0,225.9 168.0,225.9 168.0,226.3 167.0,226.3 167.0,227.4 166.0,227.4 166.0,227.9 165.0,227.9 165.0,227.9 164.0,227.9 164.0,228.6 163.0,228.6 163.0,229.3 162.0,229.3 162.0,231.9 161.0,231.9 161.0,231.3 160.0,231.3 160.0,231.5 159.0,231.5 159.0,233.3 158.0,233.3 158.0,233.9 157.0,233.9 157.0,234.9 156.0,234.9 156.0,235.3 155.0,235.3 155.0,235.8 154.0,235.8 154.0,236.8 153.0,236.8 153.0,237.8 152.0,237.8 152.0,239.4 151.0,239.4 151.0,239.6 150.0,239.6 150.0,240.2 149.0,240.2 149.0,241.9 148.0,241.9 148.0,242.4 147.0,242.4 147.0,242.8 146.0,242.8 146.0,244.4 145.0,244.4 145.0,245.6 144.0,245.6 144.0,245.9 143.0,245.9 143.0,247.3 142.0,247.3 142.0,248.0 141.0,248.0 141.0,248.1 140.0,248.1 140.0,248.9 139.0,248.9 139.0,249.7 138.0,249.7 138.0,250.1 137.0,250.1 137.0,251.5 136.0,251.5 136.0,252.1 135.0,252.1 135.0,254.2 134.0,254.2 134.0,253.9 133.0,253.9 133.0,254.5 132.0,254.5 132.0,256.5 131.0,256.5 131.0,256.6 130.0,256.6 130.0,257.1 129.0,257.1 129.0,258.1 128.0,258.1 128.0,258.6 127.0,258.6 127.0,259.8 126.0,259.8 126.0,261.1 125.0,261.1 125.0,261.1 124.0,261.1 124.0,262.7 123.0,262.7 123.0,263.6 122.0,263.6 122.0,264.5 121.0,264.5 121.0,265.6 120.0,265.6 120.0,265.8 119.0,265.8 119.0,267.2 118.0,267.2 118.0,266.8 117.0,266.8 117.0,267.1 116.0,267.1 116.0,267.7 115.0,267.7 115.0,267.9 114.0,267.9Z" fill="#7E2F8E"/><path d="M203.6,260.7 204.0,260.7 204.0,260.5 205.0,260.5 205.0,260.4 206.0,260.4 206.0,260.8 207.0,260.8 207.0,260.7 208.0,260.7 208.0,260.3 209.0,260.3 209.0,260.4 210.0,260.4 210.0,260.6 211.0,260.6 211.0,260.5 212.0,260.5 212.0,260.5 213.0,260.5 213.0,260.4 214.0,260.4 214.0,260.8 215.0,260.8 215.0,260.1 216.0,260.1 216.0,260.2 217.0,260.2 217.0,260.9 218.0,260.9 218.0,260.5 219.0,260.5 219.0,260.2 220.0,260.2 220.0,260.3 221.0,260.3 221.0,260.3 222.0,260.3 222.0,260.3 223.0,260.3 223.0,260.4 224.0,260.4 224.0,259.7 225.0,259.7 225.0,260.5 226.0,260.5 226.0,260.6 227.0,260.6 227.0,260.1 228.0,260.1 228.0,260.4 228.5,260.4 228.5,270.5 228.0,270.5 228.0,268.5 227.0,268.5 227.0,269.1 226.0,269.1 226.0,269.1 225.0,269.1 225.0,269.3 224.0,269.3 224.0,269.0 223.0,269.0 223.0,271.0 222.0,271.0 222.0,268.6 221.0,268.6 221.0,269.1 220.0,269.1 220.0,268.7 219.0,268.7 219.0,269.8 218.0,269.8 218.0,268.8 217.0,268.8 217.0,269.1 216.0,269.1 216.0,270.3 215.0,270.3 215.0,268.9 214.0,268.9 214.0,269.3 213.0,269.3 213.0,268.8 212.0,268.8 212.0,269.4 211.0,269.4 211.0,269.2 210.0,269.2 210.0,270.1 209.0,270.1 209.0,269.9 208.0,269.9 208.0,269.6 207.0,269.6 207.0,269.4 206.0,269.4 206.0,268.8 205.0,268.8 205.0,269.1 204.0,269.1 204.0,269.5 203.6,269.5Z" fill="#7E2F8E"/><path d="M228.5,188.8 229.0,188.8 229.0,188.2 230.0,188.2 230.0,187.0 231.0,187.0 231.0,186.7 232.0,186.7 232.0,186.5 233.0,186.5 233.0,185.7 234.0,185.7 234.0,185.0 235.0,185.0 235.0,182.8 236.0,182.8 236.0,182.5 237.0,182.5 237.0,181.1 238.0,181.1 238.0,180.5 239.0,180.5 239.0,179.2 240.0,179.2 240.0,178.5 241.0,178.5 241.0,177.8 242.0,177.8 242.0,176.7 243.0,176.7 243.0,175.0 244.0,175.0 244.0,175.2 245.0,175.2 245.0,174.6 246.0,174.6 246.0,172.7 247.0,172.7 247.0,172.1 248.0,172.1 248.0,171.6 249.0,171.6 249.0,171.0 250.0,171.0 250.0,169.5 251.0,169.5 251.0,169.7 252.0,169.7 252.0,168.7 253.0,168.7 253.0,168.1 254.0,168.1 254.0,166.8 255.0,166.8 255.0,165.2 256.0,165.2 256.0,166.3 257.0,166.3 257.0,165.2 258.0,165.2 258.0,164.4 259.0,164.4 259.0,163.7 260.0,163.7 260.0,162.4 261.0,162.4 261.0,161.5 262.0,161.5 262.0,161.6 263.0,161.6 263.0,159.6 264.0,159.6 264.0,159.8 265.0,159.8 265.0,159.0 266.0,159.0 266.0,158.0 267.0,158.0 267.0,157.6 268.0,157.6 268.0,157.1 269.0,157.1 269.0,156.2 270.0,156.2 270.0,155.0 271.0,155.0 271.0,154.1 272.0,154.1 272.0,152.1 273.0,152.1 273.0,152.8 274.0,152.8 274.0,151.7 275.0,151.7 275.0,150.3 276.0,150.3 276.0,148.2 277.0,148.2 277.0,147.4 278.0,147.4 278.0,146.7 279.0,146.7 279.0,146.7 280.0,146.7 280.0,145.5 281.0,145.5 281.0,144.8 282.0,144.8 282.0,142.4 283.0,142.4 283.0,141.8 284.0,141.8 284.0,140.3 285.0,140.3 285.0,140.1 286.0,140.1 286.0,138.4 287.0,138.4 287.0,136.8 288.0,136.8 288.0,137.7 289.0,137.7 289.0,136.8 290.0,136.8 290.0,137.1 291.0,137.1 291.0,136.2 292.0,136.2 292.0,134.2 293.0,134.2 293.0,134.0 294.0,134.0 294.0,133.8 295.0,133.8 295.0,132.8 296.0,132.8 296.0,132.3 297.0,132.3 297.0,131.6 298.0,131.6 298.0,131.0 299.0,131.0 299.0,129.8 300.0,129.8 300.0,129.5 301.0,129.5 301.0,128.2 302.0,128.2 302.0,127.4 303.0,127.4 303.0,126.7 304.0,126.7 304.0,125.3 305.0,125.3 305.0,125.0 306.0,125.0 306.0,123.2 307.0,123.2 307.0,122.8 308.0,122.8 308.0,121.3 309.0,121.3 309.0,121.8 310.0,121.8 310.0,120.9 311.0,120.9 311.0,119.1 312.0,119.1 312.0,130.3 311.0,130.3 311.0,131.5 310.0,131.5 310.0,132.0 309.0,132.0 309.0,133.5 308.0,133.5 308.0,133.2 307.0,133.2 307.0,134.0 306.0,134.0 306.0,134.8 305.0,134.8 305.0,135.9 304.0,135.9 304.0,136.5 303.0,136.5 303.0,138.1 302.0,138.1 302.0,138.1 301.0,138.1 301.0,140.1 300.0,140.1 300.0,139.4 299.0,139.4 299.0,141.2 298.0,141.2 298.0,142.3 297.0,142.3 297.0,143.4 296.0,143.4 296.0,143.4 295.0,143.4 295.0,143.8 294.0,143.8 294.0,144.4 293.0,144.4 293.0,145.7 292.0,145.7 292.0,146.3 291.0,146.3 291.0,146.6 290.0,146.6 290.0,147.0 289.0,147.0 289.0,148.8 288.0,148.8 288.0,149.6 287.0,149.6 287.0,150.0 286.0,150.0 286.0,150.3 285.0,150.3 285.0,150.4 284.0,150.4 284.0,151.4 283.0,151.4 283.0,152.6 282.0,152.6 282.0,152.9 281.0,152.9 281.0,153.8 280.0,153.8 280.0,155.3 279.0,155.3 279.0,155.4 278.0,155.4 278.0,156.0 277.0,156.0 277.0,157.1 276.0,157.1 276.0,158.7 275.0,158.7 275.0,159.2 274.0,159.2 274.0,161.3 273.0,161.3 273.0,162.0 272.0,162.0 272.0,163.7 271.0,163.7 271.0,163.9 270.0,163.9 270.0,164.7 269.0,164.7 269.0,165.9 268.0,165.9 268.0,166.4 267.0,166.4 267.0,168.2 266.0,168.2 266.0,169.4 265.0,169.4 265.0,169.5 264.0,169.5 264.0,169.8 263.0,169.8 263.0,170.7 262.0,170.7 262.0,171.3 261.0,171.3 261.0,172.9 260.0,172.9 260.0,173.1 259.0,173.1 259.0,173.2 258.0,173.2 258.0,173.5 257.0,173.5 257.0,174.1 256.0,174.1 256.0,175.8 255.0,175.8 255.0,175.5 254.0,175.5 254.0,176.9 253.0,176.9 253.0,177.5 252.0,177.5 252.0,179.0 251.0,179.0 251.0,179.2 250.0,179.2 250.0,180.6 249.0,180.6 249.0,181.0 248.0,181.0 248.0,181.4 247.0,181.4 247.0,182.6 246.0,182.6 246.0,184.4 245.0,184.4 245.0,184.4 244.0,184.4 244.0,185.2 243.0,185.2 243.0,186.9 242.0,186.9 242.0,187.1 241.0,187.1 241.0,187.8 240.0,187.8 240.0,190.2 239.0,190.2 239.0,191.3 238.0,191.3 238.0,191.8 237.0,191.8 237.0,193.4 236.0,193.4 236.0,193.2 235.0,193.2 235.0,194.3 234.0,194.3 234.0,195.8 233.0,195.8 233.0,196.5 232.0,196.5 232.0,196.8 231.0,196.8 231.0,197.8 230.0,197.8 230.0,199.0 229.0,199.0 229.0,199.9 228.5,199.9Z" fill="#7E2F8E"/><path d="M312.0,260.6 313.0,260.6 313.0,260.6 314.0,260.6 314.0,260.5 315.0,260.5 315.0,261.2 316.0,261.2 316.0,261.2 317.0,261.2 317.0,261.4 318.0,261.4 318.0,261.2 319.0,261.2 319.0,260.4 320.0,260.4 320.0,260.9 321.0,260.9 321.0,261.1 322.0,261.1 322.0,260.9 323.0,260.9 323.0,261.0 324.0,261.0 324.0,260.8 325.0,260.8 325.0,261.0 326.0,261.0 326.0,260.3 327.0,260.3 327.0,261.0 328.0,261.0 328.0,261.2 329.0,261.2 329.0,261.1 330.0,261.1 330.0,261.3 331.0,261.3 331.0,260.9 332.0,260.9 332.0,260.8 333.0,260.8 333.0,261.1 334.0,261.1 334.0,261.3 335.0,261.3 335.0,260.9 336.0,260.9 336.0,260.8 337.0,260.8 337.0,261.3 337.5,261.3 337.5,270.6 337.0,270.6 337.0,269.4 336.0,269.4 336.0,270.0 335.0,270.0 335.0,269.2 334.0,269.2 334.0,270.1 333.0,270.1 333.0,270.6 332.0,270.6 332.0,270.3 331.0,270.3 331.0,272.5 330.0,272.5 330.0,272.1 329.0,272.1 329.0,270.3 328.0,270.3 328.0,269.8 327.0,269.8 327.0,269.9 326.0,269.9 326.0,271.0 325.0,271.0 325.0,270.1 324.0,270.1 324.0,269.6 323.0,269.6 323.0,269.7 322.0,269.7 322.0,269.7 321.0,269.7 321.0,271.5 320.0,271.5 320.0,270.3 319.0,270.3 319.0,270.1 318.0,270.1 318.0,271.5 317.0,271.5 317.0,269.5 316.0,269.5 316.0,270.8 315.0,270.8 315.0,270.3 314.0,270.3 314.0,269.1 313.0,269.1 313.0,271.0 312.0,271.0Z" fill="#7E2F8E"/><path d="M337.5,116.1 338.0,116.1 338.0,115.8 339.0,115.8 339.0,115.9 340.0,115.9 340.0,115.0 341.0,115.0 341.0,115.9 342.0,115.9 342.0,116.0 343.0,116.0 343.0,115.9 344.0,115.9 344.0,115.2 345.0,115.2 345.0,114.0 346.0,114.0 346.0,115.0 347.0,115.0 347.0,114.5 348.0,114.5 348.0,112.7 349.0,112.7 349.0,111.1 350.0,111.1 350.0,108.8 351.0,108.8 351.0,106.5 352.0,106.5 352.0,106.1 353.0,106.1 353.0,104.9 354.0,104.9 354.0,103.6 355.0,103.6 355.0,102.7 356.0,102.7 356.0,102.1 357.0,102.1 357.0,101.1 358.0,101.1 358.0,100.3 359.0,100.3 359.0,100.2 360.0,100.2 360.0,98.7 361.0,98.7 361.0,98.3 362.0,98.3 362.0,97.8 363.0,97.8 363.0,97.5 364.0,97.5 364.0,96.4 365.0,96.4 365.0,95.2 366.0,95.2 366.0,95.1 367.0,95.1 367.0,95.5 368.0,95.5 368.0,94.3 369.0,94.3 369.0,94.1 370.0,94.1 370.0,93.6 371.0,93.6 371.0,91.7 372.0,91.7 372.0,90.1 373.0,90.1 373.0,90.3 374.0,90.3 374.0,89.1 375.0,89.1 375.0,88.5 376.0,88.5 376.0,87.3 377.0,87.3 377.0,85.8 378.0,85.8 378.0,85.1 379.0,85.1 379.0,82.8 380.0,82.8 380.0,82.6 381.0,82.6 381.0,79.6 382.0,79.6 382.0,80.4 383.0,80.4 383.0,78.8 384.0,78.8 384.0,76.9 385.0,76.9 385.0,76.3 386.0,76.3 386.0,76.2 387.0,76.2 387.0,74.2 388.0,74.2 388.0,73.0 389.0,73.0 389.0,72.3 390.0,72.3 390.0,71.6 391.0,71.6 391.0,70.5 392.0,70.5 392.0,70.9 392.6,70.9 392.6,81.5 392.0,81.5 392.0,82.0 391.0,82.0 391.0,83.8 390.0,83.8 390.0,84.2 389.0,84.2 389.0,86.7 388.0,86.7 388.0,86.3 387.0,86.3 387.0,87.3 386.0,87.3 386.0,88.3 385.0,88.3 385.0,89.0 384.0,89.0 384.0,91.2 383.0,91.2 383.0,91.9 382.0,91.9 382.0,92.9 381.0,92.9 381.0,94.2 380.0,94.2 380.0,94.5 379.0,94.5 379.0,96.3 378.0,96.3 378.0,96.8 377.0,96.8 377.0,97.8 376.0,97.8 376.0,98.3 375.0,98.3 375.0,98.4 374.0,98.4 374.0,100.1 373.0,100.1 373.0,100.4 372.0,100.4 372.0,100.8 371.0,100.8 371.0,101.2 370.0,101.2 370.0,102.2 369.0,102.2 369.0,103.0 368.0,103.0 368.0,104.0 367.0,104.0 367.0,103.9 366.0,103.9 366.0,104.8 365.0,104.8 365.0,105.9 364.0,105.9 364.0,106.5 363.0,106.5 363.0,108.3 362.0,108.3 362.0,108.0 361.0,108.0 361.0,109.0 360.0,109.0 360.0,110.0 359.0,110.0 359.0,111.4 358.0,111.4 358.0,110.2 357.0,110.2 357.0,111.1 356.0,111.1 356.0,111.7 355.0,111.7 355.0,113.4 354.0,113.4 354.0,115.0 353.0,115.0 353.0,115.9 352.0,115.9 352.0,117.0 351.0,117.0 351.0,118.6 350.0,118.6 350.0,120.3 349.0,120.3 349.0,121.2 348.0,121.2 348.0,123.0 347.0,123.0 347.0,124.1 346.0,124.1 346.0,125.6 345.0,125.6 345.0,126.5 344.0,126.5 344.0,127.7 343.0,127.7 343.0,129.0 342.0,129.0 342.0,131.6 341.0,131.6 341.0,135.3 340.0,135.3 340.0,140.2 339.0,140.2 339.0,144.7 338.0,144.7 338.0,149.4 337.5,149.4Z" fill="#7E2F8E"/><path d="M392.6,262.4 393.0,262.4 393.0,262.6 394.0,262.6 394.0,262.1 395.0,262.1 395.0,262.5 396.0,262.5 396.0,262.1 397.0,262.1 397.0,262.7 398.0,262.7 398.0,262.1 399.0,262.1 399.0,261.9 400.0,261.9 400.0,262.3 401.0,262.3 401.0,261.7 402.0,261.7 402.0,262.6 403.0,262.6 403.0,261.5 404.0,261.5 404.0,262.7 405.0,262.7 405.0,262.2 406.0,262.2 406.0,261.7 407.0,261.7 407.0,262.3 408.0,262.3 408.0,262.1 409.0,262.1 409.0,262.6 410.0,262.6 410.0,262.3 411.0,262.3 411.0,261.8 412.0,261.8 412.0,261.6 413.0,261.6 413.0,261.5 414.0,261.5 414.0,262.4 415.0,262.4 415.0,262.1 416.0,262.1 416.0,262.5 417.0,262.5 417.0,262.4 418.0,262.4 418.0,262.5 419.0,262.5 419.0,262.7 420.0,262.7 420.0,262.6 421.0,262.6 421.0,262.5 422.0,262.5 422.0,261.5 423.0,261.5 423.0,262.4 424.0,262.4 424.0,262.1 425.0,262.1 425.0,262.4 426.0,262.4 426.0,262.3 427.0,262.3 427.0,261.5 428.0,261.5 428.0,262.2 429.0,262.2 429.0,262.5 430.0,262.5 430.0,262.1 431.0,262.1 431.0,261.9 432.0,261.9 432.0,262.5 433.0,262.5 433.0,262.7 434.0,262.7 434.0,262.2 435.0,262.2 435.0,262.6 436.0,262.6 436.0,262.5 437.0,262.5 437.0,261.8 438.0,261.8 438.0,262.0 439.0,262.0 439.0,262.5 440.0,262.5 440.0,262.2 441.0,262.2 441.0,262.3 442.0,262.3 442.0,262.2 443.0,262.2 443.0,262.5 444.0,262.5 444.0,262.5 445.0,262.5 445.0,261.5 446.0,261.5 446.0,262.4 447.0,262.4 447.0,262.3 448.0,262.3 448.0,262.5 449.0,262.5 449.0,262.2 449.6,262.2 449.6,272.6 449.0,272.6 449.0,273.4 448.0,273.4 448.0,272.8 447.0,272.8 447.0,272.9 446.0,272.9 446.0,273.4 445.0,273.4 445.0,272.7 444.0,272.7 444.0,272.6 443.0,272.6 443.0,273.1 442.0,273.1 442.0,273.0 441.0,273.0 441.0,271.4 440.0,271.4 440.0,271.4 439.0,271.4 439.0,271.1 438.0,271.1 438.0,271.0 437.0,271.0 437.0,271.8 436.0,271.8 436.0,270.9 435.0,270.9 435.0,271.0 434.0,271.0 434.0,271.8 433.0,271.8 433.0,271.0 432.0,271.0 432.0,270.8 431.0,270.8 431.0,270.7 430.0,270.7 430.0,271.4 429.0,271.4 429.0,270.9 428.0,270.9 428.0,270.7 427.0,270.7 427.0,270.5 426.0,270.5 426.0,270.4 425.0,270.4 425.0,269.6 424.0,269.6 424.0,270.0 423.0,270.0 423.0,270.7 422.0,270.7 422.0,269.3 421.0,269.3 421.0,269.5 420.0,269.5 420.0,271.8 419.0,271.8 419.0,269.3 418.0,269.3 418.0,270.9 417.0,270.9 417.0,270.4 416.0,270.4 416.0,272.5 415.0,272.5 415.0,271.9 414.0,271.9 414.0,271.4 413.0,271.4 413.0,271.4 412.0,271.4 412.0,271.6 411.0,271.6 411.0,271.9 410.0,271.9 410.0,271.4 409.0,271.4 409.0,272.8 408.0,272.8 408.0,271.4 407.0,271.4 407.0,272.6 406.0,272.6 406.0,272.4 405.0,272.4 405.0,271.7 404.0,271.7 404.0,275.1 403.0,275.1 403.0,274.6 402.0,274.6 402.0,272.9 401.0,272.9 401.0,272.8 400.0,272.8 400.0,273.2 399.0,273.2 399.0,271.4 398.0,271.4 398.0,272.5 397.0,272.5 397.0,272.2 396.0,272.2 396.0,271.6 395.0,271.6 395.0,270.8 394.0,270.8 394.0,272.1 393.0,272.1 393.0,271.4 392.6,271.4Z" fill="#7E2F8E"/><path d="M449.3,69.3 450.0,69.3 450.0,70.4 451.0,70.4 451.0,71.1 452.0,71.1 452.0,70.7 453.0,70.7 453.0,71.0 454.0,71.0 454.0,70.4 455.0,70.4 455.0,68.8 456.0,68.8 456.0,69.7 457.0,69.7 457.0,69.2 458.0,69.2 458.0,68.6 459.0,68.6 459.0,67.9 460.0,67.9 460.0,66.5 461.0,66.5 461.0,66.2 462.0,66.2 462.0,64.4 463.0,64.4 463.0,63.7 464.0,63.7 464.0,62.5 464.4,62.5 464.4,72.8 464.0,72.8 464.0,72.7 463.0,72.7 463.0,73.6 462.0,73.6 462.0,75.8 461.0,75.8 461.0,76.6 460.0,76.6 460.0,77.9 459.0,77.9 459.0,78.9 458.0,78.9 458.0,81.0 457.0,81.0 457.0,82.3 456.0,82.3 456.0,85.1 455.0,85.1 455.0,86.2 454.0,86.2 454.0,90.3 453.0,90.3 453.0,95.6 452.0,95.6 452.0,98.8 451.0,98.8 451.0,100.9 450.0,100.9 450.0,101.1 449.3,101.1Z" fill="#7E2F8E"/><path d="M464.4,261.2 465.0,261.2 465.0,261.2 466.0,261.2 466.0,260.8 467.0,260.8 467.0,261.4 468.0,261.4 468.0,260.7 469.0,260.7 469.0,260.9 470.0,260.9 470.0,260.7 471.0,260.7 471.0,261.3 472.0,261.3 472.0,261.4 473.0,261.4 473.0,261.5 474.0,261.5 474.0,261.3 475.0,261.3 475.0,263.9 476.0,263.9 476.0,264.4 477.0,264.4 477.0,264.5 478.0,264.5 478.0,263.9 479.0,263.9 479.0,264.2 480.0,264.2 480.0,264.3 481.0,264.3 481.0,263.8 482.0,263.8 482.0,264.3 483.0,264.3 483.0,264.2 484.0,264.2 484.0,264.6 485.0,264.6 485.0,264.5 486.0,264.5 486.0,264.4 487.0,264.4 487.0,262.4 488.0,262.4 488.0,261.4 489.0,261.4 489.0,261.6 490.0,261.6 490.0,261.6 491.0,261.6 491.0,261.6 492.0,261.6 492.0,261.0 493.0,261.0 493.0,261.6 494.0,261.6 494.0,261.4 495.0,261.4 495.0,261.8 496.0,261.8 496.0,260.8 497.0,260.8 497.0,261.3 498.0,261.3 498.0,261.6 499.0,261.6 499.0,261.8 500.0,261.8 500.0,261.7 501.0,261.7 501.0,261.3 502.0,261.3 502.0,261.2 503.0,261.2 503.0,261.5 504.0,261.5 504.0,261.5 505.0,261.5 505.0,261.7 506.0,261.7 506.0,261.6 507.0,261.6 507.0,263.3 508.0,263.3 508.0,264.1 509.0,264.1 509.0,263.9 510.0,263.9 510.0,264.0 511.0,264.0 511.0,263.3 512.0,263.3 512.0,263.6 513.0,263.6 513.0,264.0 514.0,264.0 514.0,264.0 515.0,264.0 515.0,264.0 516.0,264.0 516.0,264.0 517.0,264.0 517.0,264.4 518.0,264.4 518.0,264.2 519.0,264.2 519.0,264.3 520.0,264.3 520.0,263.9 521.0,263.9 521.0,264.0 522.0,264.0 522.0,262.1 523.0,262.1 523.0,261.6 524.0,261.6 524.0,261.1 525.0,261.1 525.0,261.8 526.0,261.8 526.0,273.4 525.0,273.4 525.0,273.2 524.0,273.2 524.0,274.5 523.0,274.5 523.0,275.8 522.0,275.8 522.0,274.4 521.0,274.4 521.0,276.1 520.0,276.1 520.0,274.0 519.0,274.0 519.0,274.9 518.0,274.9 518.0,274.2 517.0,274.2 517.0,274.5 516.0,274.5 516.0,274.1 515.0,274.1 515.0,274.1 514.0,274.1 514.0,275.6 513.0,275.6 513.0,273.9 512.0,273.9 512.0,273.4 511.0,273.4 511.0,273.4 510.0,273.4 510.0,272.8 509.0,272.8 509.0,272.6 508.0,272.6 508.0,271.0 507.0,271.0 507.0,271.8 506.0,271.8 506.0,270.6 505.0,270.6 505.0,270.7 504.0,270.7 504.0,269.6 503.0,269.6 503.0,269.4 502.0,269.4 502.0,269.4 501.0,269.4 501.0,270.2 500.0,270.2 500.0,271.6 499.0,271.6 499.0,271.3 498.0,271.3 498.0,270.6 497.0,270.6 497.0,270.5 496.0,270.5 496.0,271.8 495.0,271.8 495.0,271.6 494.0,271.6 494.0,270.8 493.0,270.8 493.0,272.1 492.0,272.1 492.0,271.9 491.0,271.9 491.0,272.7 490.0,272.7 490.0,273.5 489.0,273.5 489.0,273.3 488.0,273.3 488.0,274.1 487.0,274.1 487.0,275.2 486.0,275.2 486.0,274.6 485.0,274.6 485.0,276.0 484.0,276.0 484.0,277.3 483.0,277.3 483.0,276.4 482.0,276.4 482.0,277.2 481.0,277.2 481.0,275.5 480.0,275.5 480.0,275.9 479.0,275.9 479.0,274.2 478.0,274.2 478.0,275.8 477.0,275.8 477.0,274.0 476.0,274.0 476.0,274.1 475.0,274.1 475.0,274.1 474.0,274.1 474.0,272.7 473.0,272.7 473.0,272.3 472.0,272.3 472.0,273.1 471.0,273.1 471.0,271.4 470.0,271.4 470.0,271.5 469.0,271.5 469.0,270.9 468.0,270.9 468.0,270.0 467.0,270.0 467.0,271.1 466.0,271.1 466.0,269.8 465.0,269.8 465.0,269.9 464.4,269.9Z" fill="#7E2F8E"/><path d="M114.50 213.00V262.00" stroke="#0072BD" stroke-width="0.9" stroke-opacity="0.75" fill="none"/><path d="M114.50 222.00V262.00" stroke="#D95319" stroke-width="0.9" stroke-opacity="0.75" fill="none"/><path d="M114.50 262.00V281.00" stroke="#EDB120" stroke-width="0.9" stroke-opacity="0.75" fill="none"/><path d="M203.50 262.00V286.00" stroke="#0072BD" stroke-width="0.9" stroke-opacity="0.75" fill="none"/><path d="M203.50 186.50V262.00" stroke="#7E2F8E" stroke-width="0.9" stroke-opacity="0.75" fill="none"/><path d="M203.50 262.00V280.00" stroke="#D95319" stroke-width="0.9" stroke-opacity="0.75" fill="none"/><path d="M228.50 125.00V262.00" stroke="#7E2F8E" stroke-width="0.75" stroke-opacity="0.75" fill="none"/><path d="M231.00 138.00V262.00" stroke="#f2a46e" stroke-width="0.75" stroke-opacity="0.75" fill="none"/><path d="M312.50 262.00V293.50" stroke="#D95319" stroke-width="0.9" stroke-opacity="0.75" fill="none"/><path d="M312.50 118.40V262.00" stroke="#7E2F8E" stroke-width="0.9" stroke-opacity="0.75" fill="none"/><path d="M337.50 54.00V262.00" stroke="#7E2F8E" stroke-width="0.8" stroke-opacity="0.75" fill="none"/><path d="M338.50 72.00V110.00" stroke="#D95319" stroke-width="0.6" stroke-opacity="0.75" fill="none"/><path d="M338.60 140.00V262.00" stroke="#EDB120" stroke-width="0.6" stroke-opacity="0.75" fill="none"/><path d="M339.40 116.00V138.00" stroke="#D95319" stroke-width="0.6" stroke-opacity="0.75" fill="none"/><path d="M341.40 118.00V131.00" stroke="#D95319" stroke-width="0.6" stroke-opacity="0.75" fill="none"/><path d="M393.50 76.00V293.00" stroke="#D95319" stroke-width="0.9" stroke-opacity="0.75" fill="none"/><path d="M392.50 270.00V292.00" stroke="#0072BD" stroke-width="0.9" stroke-opacity="0.75" fill="none"/><path d="M392.50 71.00V262.00" stroke="#7E2F8E" stroke-width="0.9" stroke-opacity="0.75" fill="none"/><path d="M449.50 11.50V262.00" stroke="#7E2F8E" stroke-width="0.8" stroke-opacity="0.75" fill="none"/><path d="M450.50 56.00V70.00" stroke="#0072BD" stroke-width="0.9" stroke-opacity="0.75" fill="none"/><path d="M450.80 70.00V100.00" stroke="#D95319" stroke-width="0.7" stroke-opacity="0.75" fill="none"/><path d="M453.40 71.00V82.00" stroke="#D95319" stroke-width="0.7" stroke-opacity="0.75" fill="none"/><path d="M464.50 262.00V291.00" stroke="#D95319" stroke-width="0.9" stroke-opacity="0.75" fill="none"/><path d="M464.50 58.00V262.00" stroke="#7E2F8E" stroke-width="0.9" stroke-opacity="0.75" fill="none"/><rect x="43.0" y="9.0" width="496.30" height="291.50" fill="none" stroke="#9c9c9c" stroke-width="1.35"/><path d="M113.90 300.5v-5M113.90 9.0v5M184.80 300.5v-5M184.80 9.0v5M255.70 300.5v-5M255.70 9.0v5M326.60 300.5v-5M326.60 9.0v5M397.50 300.5v-5M397.50 9.0v5M468.40 300.5v-5M468.40 9.0v5M43.0 264.06h5M539.3 264.06h-5M43.0 227.62h5M539.3 227.62h-5M43.0 191.19h5M539.3 191.19h-5M43.0 154.75h5M539.3 154.75h-5M43.0 118.31h5M539.3 118.31h-5M43.0 81.88h5M539.3 81.88h-5M43.0 45.44h5M539.3 45.44h-5" stroke="#5a5a5a" stroke-width="1.1" fill="none"/><text transform="translate(43.00,318.20) scale(1,1.15)" text-anchor="middle" font-family="Liberation Serif, serif" font-size="13" fill="#262626" stroke="#262626" stroke-width="0.12" >-0.5</text><text transform="translate(113.90,318.20) scale(1,1.15)" text-anchor="middle" font-family="Liberation Serif, serif" font-size="13" fill="#262626" stroke="#262626" stroke-width="0.12" >0</text><text transform="translate(184.80,318.20) scale(1,1.15)" text-anchor="middle" font-family="Liberation Serif, serif" font-size="13" fill="#262626" stroke="#262626" stroke-width="0.12" >0.5</text><text transform="translate(255.70,318.20) scale(1,1.15)" text-anchor="middle" font-family="Liberation Serif, serif" font-size="13" fill="#262626" stroke="#262626" stroke-width="0.12" >1</text><text transform="translate(326.60,318.20) scale(1,1.15)" text-anchor="middle" font-family="Liberation Serif, serif" font-size="13" fill="#262626" stroke="#262626" stroke-width="0.12" >1.5</text><text transform="translate(397.50,318.20) scale(1,1.15)" text-anchor="middle" font-family="Liberation Serif, serif" font-size="13" fill="#262626" stroke="#262626" stroke-width="0.12" >2</text><text transform="translate(468.40,318.20) scale(1,1.15)" text-anchor="middle" font-family="Liberation Serif, serif" font-size="13" fill="#262626" stroke="#262626" stroke-width="0.12" >2.5</text><text transform="translate(539.30,318.20) scale(1,1.15)" text-anchor="middle" font-family="Liberation Serif, serif" font-size="13" fill="#262626" stroke="#262626" stroke-width="0.12" >3</text><text transform="translate(38.90,305.80) scale(1,1.15)" text-anchor="end" font-family="Liberation Serif, serif" font-size="13.1" fill="#262626" stroke="#262626" stroke-width="0.12" >-10</text><text transform="translate(38.90,269.36) scale(1,1.15)" text-anchor="end" font-family="Liberation Serif, serif" font-size="13.1" fill="#262626" stroke="#262626" stroke-width="0.12" >0</text><text transform="translate(38.90,232.93) scale(1,1.15)" text-anchor="end" font-family="Liberation Serif, serif" font-size="13.1" fill="#262626" stroke="#262626" stroke-width="0.12" >10</text><text transform="translate(38.90,196.49) scale(1,1.15)" text-anchor="end" font-family="Liberation Serif, serif" font-size="13.1" fill="#262626" stroke="#262626" stroke-width="0.12" >20</text><text transform="translate(38.90,160.05) scale(1,1.15)" text-anchor="end" font-family="Liberation Serif, serif" font-size="13.1" fill="#262626" stroke="#262626" stroke-width="0.12" >30</text><text transform="translate(38.90,123.61) scale(1,1.15)" text-anchor="end" font-family="Liberation Serif, serif" font-size="13.1" fill="#262626" stroke="#262626" stroke-width="0.12" >40</text><text transform="translate(38.90,87.17) scale(1,1.15)" text-anchor="end" font-family="Liberation Serif, serif" font-size="13.1" fill="#262626" stroke="#262626" stroke-width="0.12" >50</text><text transform="translate(38.90,50.74) scale(1,1.15)" text-anchor="end" font-family="Liberation Serif, serif" font-size="13.1" fill="#262626" stroke="#262626" stroke-width="0.12" >60</text><text transform="translate(38.90,14.30) scale(1,1.15)" text-anchor="end" font-family="Liberation Serif, serif" font-size="13.1" fill="#262626" stroke="#262626" stroke-width="0.12" >70</text><text transform="translate(250.50,332.80) scale(1,1.15)" text-anchor="start" font-family="Liberation Serif, serif" font-size="13" fill="#262626" stroke="#262626" stroke-width="0.12" >Time (ms)</text><text transform="translate(309.90,333.40) scale(1,1.1)" text-anchor="middle" font-family="Liberation Serif, serif" font-size="15" fill="#262626" stroke="#262626" stroke-width="0.12" >×</text><text transform="translate(315.60,332.80) scale(1,1.15)" text-anchor="start" font-family="Liberation Serif, serif" font-size="13" fill="#262626" stroke="#262626" stroke-width="0.12" >0.1</text><text transform="translate(17.3,154.4) rotate(-90) scale(1.056,1)" text-anchor="middle" font-family="Liberation Serif, serif" font-size="12" fill="#262626" stroke="#262626" stroke-width="0.12">Current (A)</text><path d="M332.8 95.8H367M332.8 115.1H367M417.6 65.6H451.5M417.6 99.6H451.5" stroke="#ff1a1a" stroke-width="1.7" stroke-dasharray="3 2.2" fill="none"/><path d="M395.2 81.8H501.2" stroke="#000" stroke-width="1.7" stroke-dasharray="4.8 4.4" fill="none"/><path d="M330.6 102.39999999999999V108.0" stroke="#ff1a1a" stroke-width="1.6"/><path d="M330.6 95.8l-3 6.6h6z M330.6 114.6l-3 -6.6h6z" fill="#ff1a1a"/><path d="M438.4 72.39999999999999V92.80000000000001" stroke="#ff1a1a" stroke-width="1.6"/><path d="M438.4 65.8l-3 6.6h6z M438.4 99.4l-3 -6.6h6z" fill="#ff1a1a"/><g font-family="Liberation Serif, serif" font-size="11.5" fill="#ff1a1a" stroke="#ff1a1a" stroke-width="0.22"><text x="317" y="110" text-anchor="middle">3 A</text><text x="423" y="78.3" text-anchor="middle">11 A</text></g><text x="501.5" y="78.3" text-anchor="middle" font-family="Liberation Serif, serif" font-size="11.5" fill="#000" stroke="#000" stroke-width="0.22">50 A</text><path d="M328 95.3L289.27 85.28" stroke="#1515e0" stroke-width="1.4"/><path d="M282.4 83.5L293.06 82.23L289.76 85.40L291.10 89.78z" fill="#1515e0"/><path d="M416.8 64.2L354.90 49.08" stroke="#1515e0" stroke-width="1.4"/><path d="M348 47.4L358.64 45.98L355.38 49.20L356.79 53.56z" fill="#1515e0"/><rect x="188.8" y="55.2" width="93.5" height="28.2" fill="#fff" stroke="#1515e0" stroke-width="1.3"/><rect x="254" y="19" width="93.6" height="28.4" fill="#fff" stroke="#1515e0" stroke-width="1.3"/><text transform="translate(235.70,66.90) scale(1,1.1)" text-anchor="middle" font-family="Liberation Serif, serif" font-size="10.7" fill="#000" stroke="#000" stroke-width="0.22" >Maximum Steady</text><text transform="translate(235.70,79.90) scale(1,1.1)" text-anchor="middle" font-family="Liberation Serif, serif" font-size="10.7" fill="#000" stroke="#000" stroke-width="0.22" >State Mismatch</text><text transform="translate(300.90,30.90) scale(1,1.1)" text-anchor="middle" font-family="Liberation Serif, serif" font-size="10.7" fill="#000" stroke="#000" stroke-width="0.22" >Maximum Transient</text><text transform="translate(300.90,43.90) scale(1,1.1)" text-anchor="middle" font-family="Liberation Serif, serif" font-size="10.7" fill="#000" stroke="#000" stroke-width="0.22" >Mismatch</text><rect x="61.6" y="20.4" width="95" height="67.2" fill="#fff" stroke="#777" stroke-width="1.2"/><path d="M63.4 29.40H83" stroke="#0072BD" stroke-width="1" opacity="0.6"/><text x="85.5" y="34.90" font-family="Liberation Serif, serif" font-size="14.4" fill="#000" stroke="#000" stroke-width="0.22">MOSFET-1</text><path d="M63.4 46.00H83" stroke="#D95319" stroke-width="1" opacity="0.6"/><text x="85.5" y="51.50" font-family="Liberation Serif, serif" font-size="14.4" fill="#000" stroke="#000" stroke-width="0.22">MOSFET-2</text><path d="M63.4 62.60H83" stroke="#EDB120" stroke-width="1" opacity="0.6"/><text x="85.5" y="68.10" font-family="Liberation Serif, serif" font-size="14.4" fill="#000" stroke="#000" stroke-width="0.22">MOSFET-3</text><path d="M63.4 79.20H83" stroke="#7E2F8E" stroke-width="1" opacity="0.6"/><text x="85.5" y="84.70" font-family="Liberation Serif, serif" font-size="14.4" fill="#000" stroke="#000" stroke-width="0.22">MOSFET-4</text></svg></body></html>
